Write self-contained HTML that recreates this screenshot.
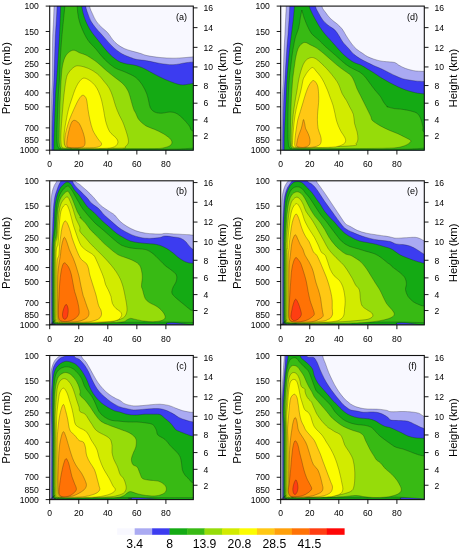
<!DOCTYPE html><html><head><meta charset="utf-8"><title>Figure</title>
<style>html,body{margin:0;padding:0;background:#fff}svg{display:block}text{font-family:"Liberation Sans", Arial, Helvetica, sans-serif;fill:#000}</style></head><body>
<svg width="462" height="550" viewBox="0 0 462 550">
<rect width="462" height="550" fill="#fff"/>
<clipPath id="c1"><rect x="49.70" y="6.10" width="143.60" height="144.10"/></clipPath>
<g clip-path="url(#c1)">
<rect x="49.70" y="6.10" width="143.60" height="144.10" fill="#f8f8ff"/>
<path d="M50.7 159.7C50.8 157.3 50.9 150.4 50.9 145.8C51.0 141.2 51.0 140.0 51.1 131.9C51.2 123.9 51.4 106.0 51.6 97.3C51.8 88.7 51.9 89.6 52.1 80.0C52.3 70.4 52.4 49.7 52.6 39.8C52.9 30.0 53.3 26.3 53.5 20.8C53.7 15.2 53.9 11.0 54.0 6.4C54.1 1.8 54.0 -4.7 54.0 -6.9L88.5 -4.0C88.7 -2.2 89.1 3.7 89.7 6.6C90.3 9.5 91.2 11.0 92.3 13.4C93.4 15.8 94.6 18.8 96.2 21.2C97.8 23.6 100.1 25.8 102.1 27.7C104.0 29.6 106.2 30.9 107.9 32.9C109.6 34.9 110.9 37.4 112.5 39.4C114.1 41.4 115.8 43.1 117.7 44.6C119.7 46.1 121.8 47.4 124.2 48.5C126.6 49.6 129.3 50.3 131.9 51.1C134.5 51.9 137.5 52.5 140.0 53.3C142.5 54.0 143.7 54.9 147.0 55.6C150.3 56.3 155.7 57.1 160.0 57.5C164.3 57.9 168.7 58.2 173.0 58.2C177.3 58.2 182.2 57.8 186.0 57.5C189.8 57.2 192.0 56.9 196.0 56.6C200.0 56.4 207.7 56.1 210.0 56.0L210.0 170.0Z" fill="#aaaaf2" stroke="#141414" stroke-opacity="0.7" stroke-width="0.4"/>
<path d="M51.8 159.7C51.8 157.3 51.9 150.4 51.9 145.8C52.0 141.2 51.9 140.0 52.1 131.9C52.3 123.9 52.9 106.0 53.2 97.3C53.4 88.7 53.5 89.6 53.9 80.0C54.2 70.4 54.8 49.7 55.2 39.8C55.6 30.0 56.0 26.3 56.3 20.8C56.6 15.2 56.9 11.0 57.0 6.4C57.1 1.8 57.0 -4.7 57.0 -6.9L85.0 -4.0C85.1 -2.2 85.3 3.7 85.8 6.6C86.3 9.5 86.9 11.0 87.8 13.4C88.7 15.8 89.7 18.8 91.0 21.2C92.3 23.6 94.0 25.6 95.6 27.7C97.2 29.8 99.1 31.6 100.8 33.5C102.5 35.5 104.3 37.4 106.0 39.4C107.7 41.4 109.4 43.4 111.2 45.2C113.0 47.0 115.0 48.9 117.0 50.4C119.0 51.9 120.6 53.1 122.9 54.3C125.2 55.5 128.2 56.6 130.6 57.5C133.0 58.4 134.4 59.0 137.1 59.5C139.8 60.0 143.2 60.1 147.0 60.8C150.8 61.4 155.7 62.8 160.0 63.4C164.3 64.0 168.7 64.8 173.0 64.7C177.3 64.6 182.2 63.2 186.0 62.7C189.8 62.2 192.0 62.0 196.0 61.8C200.0 61.6 207.7 61.5 210.0 61.5L210.0 170.0Z" fill="#3c3cf0" stroke="#141414" stroke-opacity="0.7" stroke-width="0.4"/>
<path d="M53.7 159.7C53.7 157.3 53.8 150.4 53.9 145.8C53.9 141.2 53.9 140.0 54.2 131.9C54.5 123.9 55.0 106.0 55.4 97.3C55.8 88.7 56.0 89.6 56.6 80.0C57.3 70.4 58.6 49.7 59.2 39.8C59.8 30.0 59.9 26.3 60.1 20.8C60.3 15.2 60.5 11.0 60.6 6.4C60.7 1.8 60.6 -4.7 60.6 -6.9L81.5 -4.0C81.6 -2.2 81.6 3.7 81.9 6.6C82.2 9.5 82.6 11.0 83.2 13.4C83.8 15.8 84.7 18.6 85.8 21.2C86.9 23.8 88.3 26.6 89.7 29.0C91.1 31.4 92.7 33.3 94.3 35.5C95.9 37.7 97.8 39.8 99.5 42.0C101.2 44.2 103.0 46.5 104.7 48.5C106.4 50.5 108.2 52.6 109.9 54.3C111.6 56.0 113.4 57.5 115.1 58.8C116.8 60.1 118.3 61.2 120.3 62.1C122.3 63.0 124.7 63.5 127.0 64.0C129.3 64.5 131.5 64.4 134.0 65.0C136.5 65.6 139.2 66.4 141.8 67.5C144.4 68.6 146.6 69.9 149.6 71.5C152.6 73.1 156.5 75.3 160.0 77.0C163.5 78.7 166.9 80.3 170.4 81.6C173.9 82.9 177.8 84.4 180.8 84.8C183.8 85.2 186.0 84.5 188.5 84.2C191.0 83.9 192.4 83.4 196.0 83.2C199.6 83.0 207.7 83.0 210.0 83.0L210.0 170.0Z" fill="#14aa14" stroke="#141414" stroke-opacity="0.7" stroke-width="0.4"/>
<path d="M64.8 -6.9C64.8 -4.7 65.0 1.8 64.8 6.4C64.5 11.0 63.9 15.2 63.4 20.8C62.9 26.3 62.1 33.8 61.6 39.8C61.2 45.9 60.8 50.4 60.4 57.1C60.1 63.8 59.8 73.3 59.4 80.0C59.0 86.7 58.5 91.5 58.2 97.3C57.9 103.1 57.7 108.9 57.5 114.6C57.3 120.4 57.0 127.3 57.0 131.9C56.9 136.6 56.9 139.7 57.1 142.3C57.4 145.0 57.2 146.6 58.7 147.7C60.2 148.8 55.8 148.8 66.0 149.1C76.2 149.4 105.2 149.2 120.0 149.3C134.8 149.3 144.5 149.3 154.6 149.3C164.7 149.2 174.2 149.1 180.6 148.9C187.0 148.7 188.3 148.4 193.2 148.2C198.2 148.0 207.2 147.8 210.0 147.7L210.0 131.9C207.2 131.8 196.7 132.1 193.2 131.1C189.8 130.1 190.8 127.8 189.3 125.9C187.7 124.0 186.1 121.8 184.1 119.8C182.0 117.8 179.5 115.1 177.1 113.8C174.8 112.5 172.8 112.1 170.2 112.0C167.6 111.9 164.2 113.2 161.6 113.2C159.0 113.2 156.5 113.0 154.6 112.0C152.8 111.1 151.3 109.6 150.3 107.7C149.3 105.8 149.2 103.1 148.6 100.8C148.0 98.4 147.7 96.3 146.7 93.7C145.6 91.1 144.2 87.8 142.3 85.0C140.5 82.3 138.3 79.4 135.4 77.2C132.5 75.1 128.5 73.6 125.0 72.0C121.6 70.4 118.1 69.9 114.6 67.7C111.2 65.5 107.4 62.2 104.2 59.0C101.1 55.9 98.3 51.8 95.6 48.7C92.8 45.5 90.1 43.5 87.8 40.0C85.5 36.5 83.1 31.5 81.6 27.7C80.0 23.9 79.2 20.9 78.4 17.3C77.7 13.8 77.4 10.4 77.2 6.4C77.0 2.4 77.2 -4.7 77.2 -6.9Z" fill="#38ba14" stroke="#141414" stroke-opacity="0.7" stroke-width="0.4"/>
<path d="M72.9 50.2C70.6 50.6 67.7 52.8 66.0 55.4C64.2 58.0 63.3 61.7 62.5 65.8C61.7 69.9 61.5 74.7 61.1 80.0C60.8 85.3 60.5 91.5 60.3 97.3C60.0 103.1 59.7 108.9 59.6 114.6C59.4 120.4 59.3 127.3 59.2 131.9C59.2 136.6 59.0 139.7 59.2 142.3C59.5 144.9 59.4 146.5 60.8 147.5C62.2 148.6 57.8 148.4 67.7 148.6C77.6 148.8 105.5 148.7 120.0 148.7C134.5 148.7 147.4 148.7 154.6 148.6C161.8 148.4 160.7 148.4 163.3 147.9C165.9 147.4 168.8 146.5 170.2 145.5C171.7 144.4 172.1 143.1 171.9 141.8C171.8 140.6 170.8 139.4 169.4 138.0C167.9 136.7 165.7 135.1 163.3 133.7C160.8 132.2 157.5 130.6 154.6 129.4C151.7 128.1 148.6 127.5 146.0 125.9C143.4 124.3 140.8 122.0 139.0 119.8C137.3 117.7 136.5 114.7 135.6 112.9C134.7 111.1 134.4 111.3 133.7 109.3C132.9 107.2 131.9 103.5 131.1 100.6C130.2 97.7 129.8 94.7 128.5 91.9C127.2 89.2 125.6 86.6 123.3 84.2C121.0 81.7 117.5 79.5 114.6 77.2C111.7 74.9 108.9 72.8 106.0 70.3C103.1 67.8 100.5 65.0 97.3 62.5C94.1 60.1 89.8 57.2 86.9 55.6C84.0 54.0 82.3 53.9 80.0 53.0C77.7 52.1 75.2 49.8 72.9 50.2Z" fill="#96dc0a" stroke="#141414" stroke-opacity="0.7" stroke-width="0.4"/>
<path d="M74.6 66.7C72.7 67.8 70.0 70.5 68.6 72.7C67.1 74.9 66.8 75.9 66.0 80.0C65.2 84.1 64.4 91.5 63.7 97.3C63.1 103.1 62.6 108.9 62.2 114.6C61.7 120.4 61.2 127.3 61.0 131.9C60.8 136.6 60.7 139.8 61.0 142.3C61.2 144.9 61.1 146.4 62.5 147.4C63.9 148.3 59.9 148.1 69.4 148.2C79.0 148.4 110.7 148.5 120.0 148.2C129.3 148.0 123.8 147.6 125.2 146.7C126.6 145.7 127.9 144.3 128.3 142.7C128.7 141.1 128.3 139.5 127.8 137.1C127.3 134.8 126.1 131.1 125.2 128.5C124.3 125.9 123.6 123.9 122.6 121.6C121.6 119.2 120.1 117.1 119.0 114.5C117.8 111.8 116.5 108.7 115.5 105.8C114.5 102.9 113.9 100.0 112.9 97.1C111.9 94.3 110.9 91.1 109.4 88.5C108.0 85.9 106.3 84.0 104.2 81.6C102.2 79.1 99.9 75.9 97.3 73.8C94.7 71.6 91.5 69.9 88.7 68.6C85.8 67.3 82.3 66.3 80.0 66.0C77.7 65.7 76.5 65.5 74.6 66.7Z" fill="#d2eb00" stroke="#141414" stroke-opacity="0.7" stroke-width="0.4"/>
<path d="M83.8 78.1C82.1 78.3 80.8 79.9 79.4 81.6C78.0 83.3 76.8 85.6 75.5 88.5C74.2 91.4 73.0 95.4 71.8 98.9C70.6 102.4 69.4 105.8 68.5 109.3C67.6 112.8 67.0 116.2 66.3 120.0C65.6 123.8 64.6 128.6 64.3 132.3C63.9 136.0 63.9 139.6 64.2 142.0C64.5 144.4 64.2 145.4 66.0 146.5C67.8 147.6 68.5 148.0 75.0 148.3C81.5 148.6 98.7 148.5 105.0 148.3C111.3 148.1 111.1 147.8 113.0 147.3C114.9 146.8 115.7 146.1 116.5 145.2C117.3 144.3 118.0 143.0 117.9 141.8C117.8 140.6 117.4 139.6 116.0 137.9C114.6 136.2 111.2 134.2 109.5 131.4C107.8 128.6 106.6 124.6 105.6 121.0C104.6 117.4 104.3 113.5 103.6 110.0C102.9 106.5 102.3 103.1 101.5 100.0C100.7 96.9 99.6 93.9 98.5 91.5C97.4 89.1 96.5 87.3 95.0 85.5C93.5 83.7 91.7 81.8 89.8 80.6C87.9 79.4 85.5 77.9 83.8 78.1Z" fill="#fcfc00" stroke="#141414" stroke-opacity="0.7" stroke-width="0.4"/>
<path d="M82.9 95.2C81.7 95.2 80.5 96.7 79.0 99.0C77.4 101.4 75.4 106.0 73.8 109.4C72.2 112.9 70.7 116.4 69.4 119.8C68.2 123.3 67.1 127.0 66.3 130.2C65.5 133.4 64.9 136.3 64.8 138.9C64.6 141.5 64.5 144.4 65.3 145.8C66.1 147.2 65.0 147.2 69.4 147.5C73.9 147.8 86.9 147.9 91.9 147.7C97.0 147.5 98.2 147.0 99.7 146.3C101.3 145.6 101.8 144.8 101.5 143.5C101.2 142.3 99.5 141.1 98.0 138.9C96.6 136.7 94.2 133.4 92.8 130.2C91.5 127.0 90.7 123.3 89.9 119.8C89.1 116.4 88.5 112.9 88.0 109.4C87.4 106.0 87.2 101.4 86.4 99.0C85.6 96.7 84.2 95.2 82.9 95.2Z" fill="#ffc814" stroke="#141414" stroke-opacity="0.7" stroke-width="0.4"/>
<path d="M74.1 120.3C72.8 120.3 72.1 121.4 71.2 123.3C70.2 125.2 69.3 129.1 68.6 131.9C67.9 134.8 67.3 138.3 67.0 140.6C66.8 142.9 66.6 144.6 67.0 145.8C67.4 147.0 67.3 147.2 69.4 147.5C71.6 147.8 77.4 147.8 79.8 147.5C82.3 147.2 83.3 146.9 84.2 145.8C85.0 144.7 85.2 143.3 85.0 141.0C84.8 138.6 84.0 134.9 82.9 131.9C81.9 129.0 80.4 125.2 79.0 123.3C77.5 121.4 75.4 120.3 74.1 120.3Z" fill="#ffa00a" stroke="#141414" stroke-opacity="0.7" stroke-width="0.4"/>
</g>
<rect x="49.70" y="6.10" width="143.60" height="144.10" fill="none" stroke="#111" stroke-width="1.1"/>
<line x1="45.70" y1="6.10" x2="49.70" y2="6.10" stroke="#000" stroke-width="0.9"/>
<text x="38.80" y="9.20" font-size="8.6" text-anchor="end">100</text>
<line x1="45.70" y1="31.47" x2="49.70" y2="31.47" stroke="#000" stroke-width="0.9"/>
<text x="38.80" y="34.57" font-size="8.6" text-anchor="end">150</text>
<line x1="45.70" y1="49.48" x2="49.70" y2="49.48" stroke="#000" stroke-width="0.9"/>
<text x="38.80" y="52.58" font-size="8.6" text-anchor="end">200</text>
<line x1="45.70" y1="63.44" x2="49.70" y2="63.44" stroke="#000" stroke-width="0.9"/>
<text x="38.80" y="66.54" font-size="8.6" text-anchor="end">250</text>
<line x1="45.70" y1="74.85" x2="49.70" y2="74.85" stroke="#000" stroke-width="0.9"/>
<text x="38.80" y="77.95" font-size="8.6" text-anchor="end">300</text>
<line x1="45.70" y1="92.86" x2="49.70" y2="92.86" stroke="#000" stroke-width="0.9"/>
<text x="38.80" y="95.96" font-size="8.6" text-anchor="end">400</text>
<line x1="45.70" y1="106.82" x2="49.70" y2="106.82" stroke="#000" stroke-width="0.9"/>
<text x="38.80" y="109.92" font-size="8.6" text-anchor="end">500</text>
<line x1="45.70" y1="127.88" x2="49.70" y2="127.88" stroke="#000" stroke-width="0.9"/>
<text x="38.80" y="130.98" font-size="8.6" text-anchor="end">700</text>
<line x1="45.70" y1="140.03" x2="49.70" y2="140.03" stroke="#000" stroke-width="0.9"/>
<text x="38.80" y="143.13" font-size="8.6" text-anchor="end">850</text>
<line x1="45.70" y1="150.20" x2="49.70" y2="150.20" stroke="#000" stroke-width="0.9"/>
<text x="38.80" y="153.30" font-size="8.6" text-anchor="end">1000</text>
<line x1="193.30" y1="135.84" x2="197.50" y2="135.84" stroke="#000" stroke-width="0.9"/>
<text x="203.40" y="139.14" font-size="8.6" text-anchor="start">2</text>
<line x1="193.30" y1="119.92" x2="197.50" y2="119.92" stroke="#000" stroke-width="0.9"/>
<text x="203.40" y="123.22" font-size="8.6" text-anchor="start">4</text>
<line x1="193.30" y1="103.19" x2="197.50" y2="103.19" stroke="#000" stroke-width="0.9"/>
<text x="203.40" y="106.49" font-size="8.6" text-anchor="start">6</text>
<line x1="193.30" y1="85.56" x2="197.50" y2="85.56" stroke="#000" stroke-width="0.9"/>
<text x="203.40" y="88.86" font-size="8.6" text-anchor="start">8</text>
<line x1="193.30" y1="66.94" x2="197.50" y2="66.94" stroke="#000" stroke-width="0.9"/>
<text x="203.40" y="70.24" font-size="8.6" text-anchor="start">10</text>
<line x1="193.30" y1="47.35" x2="197.50" y2="47.35" stroke="#000" stroke-width="0.9"/>
<text x="203.40" y="50.65" font-size="8.6" text-anchor="start">12</text>
<line x1="193.30" y1="27.61" x2="197.50" y2="27.61" stroke="#000" stroke-width="0.9"/>
<text x="203.40" y="30.91" font-size="8.6" text-anchor="start">14</text>
<line x1="193.30" y1="7.87" x2="197.50" y2="7.87" stroke="#000" stroke-width="0.9"/>
<text x="203.40" y="11.17" font-size="8.6" text-anchor="start">16</text>
<line x1="49.70" y1="150.20" x2="49.70" y2="154.50" stroke="#000" stroke-width="0.9"/>
<text x="49.70" y="167.00" font-size="8.6" text-anchor="middle">0</text>
<line x1="78.75" y1="150.20" x2="78.75" y2="154.50" stroke="#000" stroke-width="0.9"/>
<text x="78.75" y="167.00" font-size="8.6" text-anchor="middle">20</text>
<line x1="107.80" y1="150.20" x2="107.80" y2="154.50" stroke="#000" stroke-width="0.9"/>
<text x="107.80" y="167.00" font-size="8.6" text-anchor="middle">40</text>
<line x1="136.85" y1="150.20" x2="136.85" y2="154.50" stroke="#000" stroke-width="0.9"/>
<text x="136.85" y="167.00" font-size="8.6" text-anchor="middle">60</text>
<line x1="165.90" y1="150.20" x2="165.90" y2="154.50" stroke="#000" stroke-width="0.9"/>
<text x="165.90" y="167.00" font-size="8.6" text-anchor="middle">80</text>
<text transform="translate(10.20 78.15) rotate(-90)" font-size="11.4" text-anchor="middle">Pressure (mb)</text>
<text transform="translate(226.40 78.15) rotate(-90)" font-size="11.4" text-anchor="middle">Height (km)</text>
<text x="181.40" y="19.70" font-size="9" text-anchor="middle">(a)</text>
<clipPath id="c2"><rect x="49.70" y="180.80" width="143.60" height="144.10"/></clipPath>
<g clip-path="url(#c2)">
<rect x="49.70" y="180.80" width="143.60" height="144.10" fill="#f8f8ff"/>
<path d="M230.0 324.7C201.7 324.7 89.5 324.7 60.0 324.7C30.5 324.7 54.3 324.6 52.9 324.5C51.5 324.4 51.8 324.4 51.5 324.2C51.2 324.0 51.1 323.9 51.0 323.3C50.8 322.6 50.8 330.8 50.8 320.3C50.8 309.7 50.8 278.4 50.8 260.0C50.8 241.6 50.6 220.6 50.7 209.6C50.9 198.6 51.2 198.0 51.8 194.0C52.4 190.1 53.3 188.0 54.2 185.7C55.1 183.4 56.4 183.1 57.0 180.2C57.5 177.3 57.5 170.1 57.7 168.1L73.9 168.1C74.1 170.1 73.7 177.5 74.6 180.2C75.6 182.9 77.8 182.8 79.8 184.5C81.8 186.3 84.4 188.4 86.8 190.6C89.1 192.7 91.4 195.1 93.7 197.5C96.0 200.0 98.0 203.0 100.6 205.3C103.2 207.6 106.9 209.7 109.3 211.4C111.6 213.0 112.9 213.4 114.6 215.0C116.4 216.6 117.8 219.2 119.8 221.1C121.8 222.9 124.2 224.7 126.8 226.3C129.4 227.8 132.2 229.4 135.4 230.6C138.6 231.7 141.7 232.6 145.8 233.2C149.9 233.8 156.8 234.0 160.0 234.0C163.2 234.1 162.7 233.4 165.0 233.4C167.3 233.3 170.8 233.7 173.7 233.9C176.6 234.0 179.7 234.2 182.3 234.4C184.9 234.5 187.4 234.6 189.3 234.7C191.1 234.9 189.8 234.9 193.2 235.1C196.7 235.2 207.2 235.5 210.0 235.6Z" fill="#aaaaf2" stroke="#141414" stroke-opacity="0.7" stroke-width="0.4"/>
<path d="M230.0 324.5C201.7 324.5 89.3 324.6 60.0 324.5C30.7 324.4 55.6 324.3 54.4 324.2C53.1 324.1 53.0 324.1 52.6 323.8C52.1 323.6 52.0 323.4 51.9 322.6C51.7 321.8 51.7 330.0 51.7 318.8C51.6 307.5 51.5 270.3 51.7 255.0C51.8 239.7 52.4 234.5 52.6 226.9C52.9 219.4 53.0 214.5 53.3 209.6C53.7 204.7 54.1 201.0 54.7 197.5C55.4 194.0 56.5 191.2 57.3 188.9C58.1 186.5 58.8 185.1 59.4 183.7C60.0 182.2 60.5 182.8 60.8 180.2C61.1 177.6 61.2 170.1 61.3 168.1L71.7 168.1C71.8 170.1 71.8 177.3 72.4 180.2C72.9 183.1 73.7 183.7 75.0 185.4C76.2 187.1 77.9 188.6 79.8 190.6C81.8 192.6 84.7 195.3 86.8 197.5C88.8 199.7 89.9 201.7 91.9 203.6C94.0 205.4 96.8 206.9 98.9 208.8C100.9 210.7 102.2 213.0 104.2 215.0C106.3 217.0 108.9 219.0 111.2 221.1C113.5 223.1 115.8 225.4 118.1 227.1C120.4 228.9 122.7 230.2 125.0 231.5C127.3 232.7 129.4 233.9 131.9 234.9C134.5 235.9 137.7 236.9 140.6 237.5C143.5 238.1 146.0 238.4 149.3 238.4C152.5 238.4 157.4 237.9 160.0 237.5C162.6 237.1 162.7 236.0 165.0 236.0C167.3 235.9 171.1 236.6 173.7 237.0C176.3 237.4 178.6 237.4 180.6 238.2C182.6 239.0 184.4 240.4 185.8 241.7C187.2 243.0 188.0 244.7 189.3 246.0C190.5 247.3 189.8 246.9 193.2 249.5C196.7 252.1 207.2 259.6 210.0 261.6Z" fill="#3c3cf0" stroke="#141414" stroke-opacity="0.7" stroke-width="0.4"/>
<path d="M230.0 322.6C223.7 332.4 182.7 322.4 172.0 322.7C161.3 323.0 169.7 323.9 166.0 324.2C162.3 324.5 167.7 324.3 150.0 324.3C132.3 324.3 75.7 324.3 60.0 324.2C44.3 324.1 56.9 324.0 55.8 323.9C54.8 323.7 54.1 323.8 53.6 323.4C53.1 323.1 53.0 323.0 52.8 321.9C52.6 320.9 52.6 329.3 52.5 317.3C52.5 305.3 52.3 265.1 52.5 250.0C52.8 234.9 53.7 233.7 54.0 226.9C54.4 220.2 54.3 214.5 54.7 209.6C55.1 204.7 55.6 200.9 56.5 197.5C57.3 194.1 58.4 191.4 59.6 189.2C60.7 187.0 62.1 185.5 63.4 184.4C64.7 183.2 66.1 182.1 67.4 182.1C68.7 182.1 70.0 183.3 71.2 184.5C72.3 185.8 73.0 188.0 74.3 189.7C75.6 191.5 77.5 193.0 79.0 194.9C80.5 196.8 81.8 199.0 83.3 201.0C84.7 203.0 85.9 205.2 87.6 207.0C89.4 208.9 91.2 209.9 93.7 212.2C96.2 214.6 99.9 218.6 102.5 221.1C105.1 223.5 107.1 225.1 109.4 227.1C111.7 229.1 114.1 231.5 116.4 233.2C118.7 234.9 121.0 236.2 123.3 237.5C125.6 238.8 127.6 240.1 130.2 241.0C132.8 241.8 136.0 242.3 138.9 242.7C141.8 243.1 144.6 243.3 147.5 243.6C150.4 243.9 153.9 244.0 156.2 244.4C158.5 244.8 159.8 245.3 161.6 246.0C163.3 246.7 165.0 247.6 166.8 248.6C168.5 249.6 170.5 251.0 171.9 252.1C173.4 253.1 174.1 253.9 175.4 255.0C176.7 256.1 178.0 257.3 179.7 258.5C181.5 259.6 183.5 261.1 185.8 261.9C188.1 262.7 189.2 263.0 193.2 263.3C197.3 263.7 203.9 254.1 210.0 264.0C216.2 273.9 236.3 312.8 230.0 322.6Z" fill="#14aa14" stroke="#141414" stroke-opacity="0.7" stroke-width="0.4"/>
<path d="M230.0 321.8C221.7 323.6 181.7 321.9 160.0 322.0C138.3 322.1 116.3 322.4 100.0 322.6C83.7 322.9 69.1 323.3 62.0 323.5C54.9 323.7 58.5 323.6 57.3 323.6C56.1 323.5 55.3 323.4 54.7 323.0C54.1 322.7 54.0 322.5 53.7 321.3C53.5 320.1 53.5 327.6 53.4 315.8C53.4 303.9 53.1 264.8 53.4 250.0C53.8 235.2 54.9 233.7 55.4 226.9C55.9 220.2 56.0 214.2 56.5 209.6C56.9 205.0 57.3 202.3 58.2 199.2C59.0 196.2 60.1 193.6 61.6 191.5C63.2 189.3 65.7 186.4 67.4 186.1C69.0 185.8 70.2 188.1 71.5 189.7C72.8 191.3 73.7 193.6 75.0 195.8C76.2 197.9 77.6 200.4 79.0 202.7C80.3 205.0 80.8 206.4 83.3 209.6C85.8 212.8 90.9 218.9 93.9 221.9C96.8 225.0 98.5 226.0 100.8 228.0C103.1 230.0 105.4 232.0 107.7 234.0C110.0 236.1 112.3 238.2 114.6 240.1C116.9 242.0 119.0 244.0 121.6 245.3C124.2 246.6 127.3 247.3 130.2 247.9C133.1 248.5 136.3 248.5 138.9 248.8C141.5 249.1 143.8 249.1 145.8 249.6C147.8 250.2 149.3 251.1 151.0 252.2C152.7 253.4 153.9 254.4 156.2 256.6C158.5 258.8 162.4 263.1 165.0 265.4C167.6 267.7 170.1 269.0 171.9 270.6C173.8 272.2 175.6 273.2 176.3 274.9C177.0 276.6 176.9 278.8 176.3 281.0C175.7 283.1 173.5 285.9 172.8 287.9C172.1 289.9 171.5 291.5 171.9 293.1C172.4 294.7 174.0 296.0 175.4 297.4C176.9 298.9 178.9 300.3 180.6 301.8C182.3 303.2 184.2 304.8 185.8 306.1C187.4 307.4 188.9 308.8 190.1 309.5C191.4 310.3 189.9 310.1 193.2 310.4C196.6 310.7 203.9 309.4 210.0 311.3C216.2 313.2 238.3 320.0 230.0 321.8Z" fill="#38ba14" stroke="#141414" stroke-opacity="0.7" stroke-width="0.4"/>
<path d="M55.8 322.6C53.9 322.2 54.9 322.0 54.7 320.6C54.4 319.2 54.4 326.0 54.3 314.2C54.2 302.5 54.0 263.1 54.3 250.0C54.6 236.9 55.8 240.9 56.3 235.6C56.8 230.3 56.8 223.2 57.1 218.3C57.5 213.4 57.7 209.6 58.4 206.2C59.0 202.7 59.6 200.0 61.1 197.5C62.6 195.0 65.7 191.4 67.4 191.3C69.0 191.1 70.0 194.6 71.2 196.6C72.3 198.7 73.1 201.1 74.1 203.6C75.1 206.0 76.1 209.1 77.2 211.4C78.3 213.7 80.2 216.4 80.7 217.4C81.2 218.5 79.2 216.7 80.0 217.6C80.8 218.5 83.5 220.8 85.2 222.8C86.9 224.8 88.4 227.4 90.4 229.7C92.4 232.0 95.0 234.3 97.3 236.6C99.6 239.0 101.9 241.4 104.2 243.6C106.6 245.7 108.9 247.8 111.2 249.6C113.5 251.5 115.8 253.5 118.1 254.8C120.4 256.1 122.7 256.6 125.0 257.4C127.3 258.3 129.6 258.9 131.9 260.0C134.3 261.2 137.3 262.6 138.9 264.4C140.5 266.1 140.9 268.2 141.5 270.4C142.0 272.6 142.3 274.7 142.3 277.3C142.3 279.9 141.4 283.9 141.5 286.0C141.5 288.0 141.9 287.6 142.5 289.6C143.1 291.7 144.0 296.1 145.1 298.3C146.3 300.5 147.8 301.5 149.4 302.6C151.0 303.8 152.9 304.2 154.6 305.2C156.4 306.2 158.2 307.2 159.8 308.7C161.4 310.1 163.3 312.3 164.2 313.9C165.0 315.5 165.6 317.0 165.0 318.2C164.4 319.4 162.7 320.2 160.7 320.8C158.7 321.4 155.6 321.6 152.9 321.7C150.2 321.7 147.1 321.5 144.2 321.1C141.4 320.8 137.9 319.9 135.6 319.4C133.3 319.0 131.8 318.3 130.4 318.4C128.9 318.5 128.1 319.4 126.9 319.9C125.8 320.5 125.8 321.2 123.5 321.7C121.1 322.1 118.0 322.3 112.7 322.5C107.5 322.8 99.7 323.0 91.9 323.1C84.2 323.1 72.0 323.1 66.0 323.1C59.9 323.0 57.7 323.1 55.8 322.6Z" fill="#96dc0a" stroke="#141414" stroke-opacity="0.7" stroke-width="0.4"/>
<path d="M56.9 322.3C55.2 321.8 55.9 321.6 55.6 320.0C55.3 318.4 55.3 324.4 55.2 312.7C55.1 301.1 54.9 262.6 55.2 250.0C55.5 237.4 56.7 241.8 57.1 237.3C57.6 232.9 57.7 227.8 58.0 223.5C58.4 219.2 58.6 214.8 59.2 211.4C59.8 207.9 60.2 205.1 61.5 202.7C62.8 200.3 65.5 197.0 67.0 196.8C68.5 196.7 69.3 199.7 70.3 201.8C71.3 204.0 72.3 206.9 73.2 209.6C74.2 212.4 74.7 215.4 75.8 218.3C76.9 221.2 79.1 224.8 79.8 226.9C80.5 229.1 79.1 229.7 80.0 231.5C80.9 233.2 83.5 235.5 85.2 237.5C86.9 239.5 88.4 241.4 90.4 243.6C92.4 245.7 95.0 248.2 97.3 250.5C99.6 252.8 101.9 255.0 104.2 257.4C106.6 259.9 109.1 262.8 111.2 265.2C113.2 267.7 114.8 269.7 116.4 272.1C118.0 274.6 119.5 277.3 120.7 279.9C121.8 282.5 122.5 284.7 123.3 287.7C124.1 290.8 124.9 295.1 125.5 298.3C126.1 301.5 126.8 304.5 126.9 306.9C127.1 309.4 127.2 311.2 126.6 313.0C126.0 314.8 125.2 316.4 123.5 317.7C121.7 318.9 118.6 319.8 116.2 320.5C113.8 321.1 113.3 321.5 109.3 321.8C105.2 322.2 99.2 322.6 91.9 322.7C84.7 322.8 71.8 322.8 66.0 322.7C60.1 322.6 58.6 322.7 56.9 322.3Z" fill="#d2eb00" stroke="#141414" stroke-opacity="0.7" stroke-width="0.4"/>
<path d="M58.0 321.9C56.4 321.4 56.9 321.1 56.5 319.3C56.2 317.5 56.1 321.9 56.1 311.2C56.0 300.5 55.7 266.2 56.1 255.0C56.4 243.8 57.5 248.1 58.0 244.3C58.5 240.5 58.6 236.2 58.9 232.1C59.2 228.1 59.3 223.8 59.7 220.0C60.2 216.3 60.4 212.3 61.5 209.6C62.5 207.0 64.7 204.3 66.0 204.3C67.2 204.3 68.2 207.3 69.1 209.6C70.0 212.0 70.7 215.4 71.5 218.3C72.3 221.2 72.5 222.7 73.9 226.9C75.4 231.2 78.1 239.8 80.0 243.6C81.9 247.4 83.0 247.7 85.2 249.6C87.4 251.5 91.4 253.1 93.4 255.0C95.3 256.9 95.8 259.0 96.8 261.1C97.8 263.1 98.6 265.1 99.4 267.1C100.3 269.1 101.2 271.2 102.0 273.2C102.8 275.2 103.6 277.4 104.2 279.2C104.8 281.1 104.8 282.7 105.5 284.4C106.1 286.2 107.2 287.6 108.1 289.6C109.0 291.7 110.3 294.2 111.0 296.6C111.7 298.9 111.5 301.5 112.4 303.5C113.2 305.5 114.9 307.4 116.2 308.7C117.5 310.0 119.1 310.3 120.0 311.3C120.9 312.3 121.7 313.6 121.7 314.7C121.7 315.9 120.9 317.3 120.0 318.2C119.1 319.2 118.0 319.9 116.2 320.5C114.4 321.0 113.3 321.2 109.3 321.5C105.2 321.8 99.2 322.2 91.9 322.4C84.7 322.5 71.6 322.4 66.0 322.4C60.3 322.3 59.5 322.4 58.0 321.9Z" fill="#fcfc00" stroke="#141414" stroke-opacity="0.7" stroke-width="0.4"/>
<path d="M58.9 321.5C57.5 321.0 57.8 320.7 57.4 318.8C57.1 317.0 57.0 319.3 56.9 310.3C56.9 301.4 56.6 274.2 56.9 265.0C57.3 255.8 58.4 258.5 58.9 255.0C59.3 251.5 59.4 247.8 59.7 244.3C60.1 240.7 60.5 237.0 61.0 233.9C61.4 230.7 62.0 227.4 62.7 225.2C63.4 223.1 64.4 220.9 65.3 220.9C66.2 220.9 67.4 223.3 68.2 225.2C69.1 227.1 69.7 229.5 70.5 232.1C71.3 234.7 71.7 237.0 73.1 240.8C74.4 244.6 77.2 251.8 78.7 255.0C80.2 258.2 80.8 258.8 82.1 260.2C83.4 261.6 85.4 262.2 86.5 263.7C87.5 265.1 88.1 267.1 88.6 268.9C89.1 270.6 89.0 272.0 89.5 274.0C90.0 276.1 90.9 278.7 91.6 281.0C92.4 283.3 93.1 285.6 93.8 287.9C94.5 290.2 95.2 292.1 96.0 295.0C96.8 297.9 97.7 302.6 98.5 305.2C99.4 307.8 100.5 308.8 101.0 310.4C101.4 312.0 101.8 313.4 101.5 314.7C101.1 316.1 100.5 317.6 98.9 318.7C97.3 319.8 94.5 320.7 91.9 321.3C89.4 321.9 87.6 322.0 83.3 322.2C79.0 322.3 70.0 322.3 66.0 322.2C61.9 322.1 60.4 322.1 58.9 321.5Z" fill="#ffc814" stroke="#141414" stroke-opacity="0.7" stroke-width="0.4"/>
<path d="M59.8 321.2C58.5 320.7 58.7 320.4 58.3 318.5C58.0 316.6 57.9 317.3 57.8 310.0C57.7 302.8 57.4 284.2 57.8 275.0C58.3 265.8 59.9 259.3 60.4 255.0C61.0 250.7 60.6 251.5 61.0 249.5C61.3 247.4 61.8 244.6 62.3 242.5C62.9 240.5 63.6 237.3 64.4 237.3C65.2 237.3 66.2 240.5 67.0 242.5C67.8 244.6 68.5 247.4 69.3 249.5C70.1 251.5 70.9 253.1 71.7 255.0C72.6 256.9 73.5 258.8 74.3 261.1C75.2 263.4 76.1 266.3 76.9 268.9C77.7 271.5 78.4 273.9 79.1 276.6C79.7 279.4 80.2 282.2 80.8 285.3C81.5 288.4 82.4 292.8 83.0 295.0C83.5 297.2 83.5 296.3 84.2 298.3C84.8 300.3 86.3 304.5 87.1 306.9C87.9 309.4 89.0 311.2 89.0 313.0C89.0 314.8 88.5 316.4 87.1 317.7C85.7 319.0 82.8 320.1 80.7 320.8C78.6 321.5 77.1 321.7 74.6 321.8C72.2 322.0 68.4 321.9 66.0 321.8C63.5 321.7 61.1 321.8 59.8 321.2Z" fill="#ffa00a" stroke="#141414" stroke-opacity="0.7" stroke-width="0.4"/>
<path d="M64.2 262.8C63.1 263.1 62.4 265.8 61.6 268.9C60.9 271.9 60.4 276.1 59.9 281.0C59.5 285.9 59.1 293.1 58.9 298.3C58.6 303.5 58.3 308.7 58.4 312.1C58.4 315.5 58.4 317.2 59.0 318.7C59.7 320.3 60.8 320.9 62.5 321.3C64.2 321.7 67.3 321.7 69.4 321.1C71.6 320.6 73.9 319.4 75.5 318.2C77.1 317.0 78.4 315.5 79.0 313.9C79.5 312.3 79.2 311.0 79.0 308.7C78.7 306.4 78.0 302.9 77.2 300.0C76.5 297.1 75.4 294.2 74.6 291.4C73.9 288.5 73.5 285.6 72.9 282.7C72.3 279.8 71.9 276.6 71.2 274.0C70.4 271.5 69.7 269.0 68.6 267.1C67.4 265.2 65.4 262.5 64.2 262.8Z" fill="#ff7205" stroke="#141414" stroke-opacity="0.7" stroke-width="0.4"/>
<path d="M66.0 304.4C65.3 304.6 64.3 307.1 63.7 308.7C63.1 310.3 62.6 312.3 62.5 313.9C62.4 315.5 62.7 317.3 63.2 318.2C63.7 319.1 64.6 319.5 65.3 319.2C66.0 319.0 66.9 317.8 67.4 316.5C67.8 315.1 68.2 312.9 68.2 311.3C68.3 309.7 68.1 308.1 67.7 306.9C67.3 305.8 66.6 304.1 66.0 304.4Z" fill="#ff3e12" stroke="#141414" stroke-opacity="0.7" stroke-width="0.4"/>
</g>
<rect x="49.70" y="180.80" width="143.60" height="144.10" fill="none" stroke="#111" stroke-width="1.1"/>
<line x1="45.70" y1="180.80" x2="49.70" y2="180.80" stroke="#000" stroke-width="0.9"/>
<text x="38.80" y="183.90" font-size="8.6" text-anchor="end">100</text>
<line x1="45.70" y1="206.17" x2="49.70" y2="206.17" stroke="#000" stroke-width="0.9"/>
<text x="38.80" y="209.27" font-size="8.6" text-anchor="end">150</text>
<line x1="45.70" y1="224.18" x2="49.70" y2="224.18" stroke="#000" stroke-width="0.9"/>
<text x="38.80" y="227.28" font-size="8.6" text-anchor="end">200</text>
<line x1="45.70" y1="238.14" x2="49.70" y2="238.14" stroke="#000" stroke-width="0.9"/>
<text x="38.80" y="241.24" font-size="8.6" text-anchor="end">250</text>
<line x1="45.70" y1="249.55" x2="49.70" y2="249.55" stroke="#000" stroke-width="0.9"/>
<text x="38.80" y="252.65" font-size="8.6" text-anchor="end">300</text>
<line x1="45.70" y1="267.56" x2="49.70" y2="267.56" stroke="#000" stroke-width="0.9"/>
<text x="38.80" y="270.66" font-size="8.6" text-anchor="end">400</text>
<line x1="45.70" y1="281.52" x2="49.70" y2="281.52" stroke="#000" stroke-width="0.9"/>
<text x="38.80" y="284.62" font-size="8.6" text-anchor="end">500</text>
<line x1="45.70" y1="302.58" x2="49.70" y2="302.58" stroke="#000" stroke-width="0.9"/>
<text x="38.80" y="305.68" font-size="8.6" text-anchor="end">700</text>
<line x1="45.70" y1="314.73" x2="49.70" y2="314.73" stroke="#000" stroke-width="0.9"/>
<text x="38.80" y="317.83" font-size="8.6" text-anchor="end">850</text>
<line x1="45.70" y1="324.90" x2="49.70" y2="324.90" stroke="#000" stroke-width="0.9"/>
<text x="38.80" y="328.00" font-size="8.6" text-anchor="end">1000</text>
<line x1="193.30" y1="310.54" x2="197.50" y2="310.54" stroke="#000" stroke-width="0.9"/>
<text x="203.40" y="313.84" font-size="8.6" text-anchor="start">2</text>
<line x1="193.30" y1="294.62" x2="197.50" y2="294.62" stroke="#000" stroke-width="0.9"/>
<text x="203.40" y="297.92" font-size="8.6" text-anchor="start">4</text>
<line x1="193.30" y1="277.89" x2="197.50" y2="277.89" stroke="#000" stroke-width="0.9"/>
<text x="203.40" y="281.19" font-size="8.6" text-anchor="start">6</text>
<line x1="193.30" y1="260.26" x2="197.50" y2="260.26" stroke="#000" stroke-width="0.9"/>
<text x="203.40" y="263.56" font-size="8.6" text-anchor="start">8</text>
<line x1="193.30" y1="241.64" x2="197.50" y2="241.64" stroke="#000" stroke-width="0.9"/>
<text x="203.40" y="244.94" font-size="8.6" text-anchor="start">10</text>
<line x1="193.30" y1="222.05" x2="197.50" y2="222.05" stroke="#000" stroke-width="0.9"/>
<text x="203.40" y="225.35" font-size="8.6" text-anchor="start">12</text>
<line x1="193.30" y1="202.31" x2="197.50" y2="202.31" stroke="#000" stroke-width="0.9"/>
<text x="203.40" y="205.61" font-size="8.6" text-anchor="start">14</text>
<line x1="193.30" y1="182.57" x2="197.50" y2="182.57" stroke="#000" stroke-width="0.9"/>
<text x="203.40" y="185.87" font-size="8.6" text-anchor="start">16</text>
<line x1="49.70" y1="324.90" x2="49.70" y2="329.20" stroke="#000" stroke-width="0.9"/>
<text x="49.70" y="341.70" font-size="8.6" text-anchor="middle">0</text>
<line x1="78.75" y1="324.90" x2="78.75" y2="329.20" stroke="#000" stroke-width="0.9"/>
<text x="78.75" y="341.70" font-size="8.6" text-anchor="middle">20</text>
<line x1="107.80" y1="324.90" x2="107.80" y2="329.20" stroke="#000" stroke-width="0.9"/>
<text x="107.80" y="341.70" font-size="8.6" text-anchor="middle">40</text>
<line x1="136.85" y1="324.90" x2="136.85" y2="329.20" stroke="#000" stroke-width="0.9"/>
<text x="136.85" y="341.70" font-size="8.6" text-anchor="middle">60</text>
<line x1="165.90" y1="324.90" x2="165.90" y2="329.20" stroke="#000" stroke-width="0.9"/>
<text x="165.90" y="341.70" font-size="8.6" text-anchor="middle">80</text>
<text transform="translate(10.20 252.85) rotate(-90)" font-size="11.4" text-anchor="middle">Pressure (mb)</text>
<text transform="translate(226.40 252.85) rotate(-90)" font-size="11.4" text-anchor="middle">Height (km)</text>
<text x="181.40" y="194.40" font-size="9" text-anchor="middle">(b)</text>
<clipPath id="c3"><rect x="49.70" y="355.50" width="143.60" height="144.10"/></clipPath>
<g clip-path="url(#c3)">
<rect x="49.70" y="355.50" width="143.60" height="144.10" fill="#f8f8ff"/>
<path d="M230.0 499.5C201.7 499.5 89.5 499.5 60.0 499.5C30.5 499.5 54.3 499.4 52.9 499.3C51.5 499.2 51.8 499.2 51.5 499.0C51.2 498.8 51.1 498.7 51.0 498.1C50.9 497.4 50.8 504.8 50.8 495.1C50.8 485.4 50.9 458.4 50.8 440.0C50.7 421.6 50.3 396.2 50.4 384.6C50.5 373.1 50.7 374.5 51.3 370.8C51.8 367.0 52.8 364.4 53.9 362.1C54.9 359.9 56.8 358.5 57.8 357.3C58.9 356.1 59.7 357.2 60.1 354.8C60.5 352.5 60.4 345.0 60.4 343.1L79.0 345.0C79.4 346.9 80.2 353.3 81.4 356.2C82.6 359.1 84.6 360.0 86.0 362.1C87.4 364.2 88.6 366.3 89.9 368.6C91.2 370.9 92.5 373.4 93.8 375.7C95.1 378.0 96.2 380.0 97.7 382.2C99.2 384.4 101.0 386.6 102.9 388.7C104.9 390.8 107.2 393.0 109.4 394.6C111.6 396.2 114.0 397.5 115.8 398.5C117.6 399.5 118.5 399.5 120.0 400.4C121.5 401.3 122.7 402.9 125.0 403.9C127.3 404.8 130.8 405.6 133.7 405.9C136.6 406.2 139.5 405.8 142.3 405.6C145.2 405.4 148.1 404.9 151.0 404.7C153.9 404.5 157.1 404.1 160.0 404.2C162.9 404.3 165.9 404.8 168.5 405.4C171.1 406.0 173.1 407.1 175.4 408.0C177.7 408.9 180.0 409.9 182.3 410.6C184.6 411.3 187.4 411.7 189.3 412.0C191.1 412.3 189.8 412.2 193.2 412.3C196.7 412.5 207.2 412.8 210.0 412.9Z" fill="#aaaaf2" stroke="#141414" stroke-opacity="0.7" stroke-width="0.4"/>
<path d="M230.0 499.3C201.7 499.3 89.3 499.4 60.0 499.3C30.7 499.2 55.6 499.1 54.4 499.0C53.2 498.9 53.0 498.9 52.6 498.6C52.2 498.4 52.1 498.2 51.9 497.4C51.8 496.6 51.7 504.0 51.7 493.6C51.7 483.2 51.8 450.3 51.7 435.0C51.6 419.7 51.2 410.3 51.3 401.9C51.3 393.6 51.5 389.8 51.8 384.6C52.0 379.4 52.0 374.4 52.6 370.8C53.3 367.2 54.2 365.2 55.6 363.0C56.9 360.8 59.1 359.1 60.8 357.8C62.5 356.5 64.7 357.5 65.6 355.0C66.6 352.6 66.2 345.1 66.3 343.1L72.0 345.0C72.4 346.9 73.0 353.8 74.3 356.2C75.5 358.6 77.8 358.0 79.5 359.5C81.2 361.0 83.2 363.2 84.7 365.3C86.2 367.4 87.4 369.5 88.6 371.8C89.8 374.1 90.7 376.7 91.8 379.0C92.9 381.3 93.9 383.4 95.1 385.5C96.3 387.6 97.5 389.5 99.0 391.3C100.5 393.1 102.3 394.8 104.2 396.5C106.1 398.2 108.7 400.3 110.6 401.7C112.5 403.1 114.2 404.0 115.8 404.9C117.4 405.8 118.5 406.4 120.0 406.9C121.5 407.4 122.7 407.7 125.0 408.2C127.3 408.7 130.8 409.7 133.7 409.9C136.6 410.1 139.5 409.6 142.3 409.4C145.2 409.2 148.1 408.8 151.0 408.7C153.9 408.6 157.4 408.4 160.0 408.7C162.6 409.0 164.5 409.7 166.8 410.6C169.0 411.5 171.7 412.9 173.7 414.1C175.7 415.2 176.9 416.5 178.9 417.5C180.9 418.5 183.4 419.4 185.8 420.1C188.2 420.9 189.2 421.3 193.2 421.9C197.3 422.4 207.2 423.3 210.0 423.6Z" fill="#3c3cf0" stroke="#141414" stroke-opacity="0.7" stroke-width="0.4"/>
<path d="M230.0 497.5C217.5 507.6 152.0 497.4 135.0 497.7C118.0 497.9 140.5 498.8 128.0 499.0C115.5 499.2 72.0 499.1 60.0 499.0C48.0 498.9 56.9 498.8 55.9 498.7C54.9 498.5 54.2 498.6 53.7 498.2C53.2 497.9 53.1 497.8 52.9 496.7C52.7 495.7 52.6 503.2 52.6 492.1C52.6 480.9 52.6 445.0 52.6 430.0C52.6 415.0 52.4 410.1 52.5 401.9C52.5 393.8 52.6 386.4 53.0 381.2C53.4 376.0 53.7 373.5 54.7 370.8C55.7 368.0 57.2 366.3 59.0 364.7C60.9 363.1 63.4 361.5 66.0 361.3C68.5 361.0 72.0 362.3 74.3 363.4C76.6 364.5 77.9 366.1 79.5 367.9C81.1 369.7 82.7 372.2 84.0 374.4C85.3 376.6 86.3 378.7 87.3 380.9C88.3 383.1 88.9 385.3 89.9 387.4C90.9 389.5 91.9 391.4 93.1 393.3C94.3 395.2 95.6 396.9 97.0 398.5C98.4 400.1 99.8 401.5 101.6 403.0C103.4 404.5 105.9 406.2 108.1 407.5C110.2 408.8 112.5 410.0 114.5 410.8C116.5 411.6 118.0 411.5 120.0 412.1C122.0 412.7 124.2 413.7 126.8 414.2C129.3 414.7 132.5 415.1 135.4 415.1C138.3 415.1 141.2 414.4 144.1 414.2C147.0 414.1 150.1 414.2 152.7 414.2C155.4 414.3 158.0 413.9 160.0 414.6C162.0 415.3 163.3 417.0 165.0 418.4C166.7 419.8 168.8 421.3 170.2 422.7C171.7 424.2 172.7 425.8 173.7 427.1C174.7 428.3 174.8 429.1 176.3 430.0C177.7 430.9 180.2 431.7 182.3 432.6C184.5 433.5 187.4 434.6 189.3 435.2C191.1 435.8 189.8 435.8 193.2 436.1C196.7 436.3 203.9 426.7 210.0 436.9C216.2 447.2 242.5 487.4 230.0 497.5Z" fill="#14aa14" stroke="#141414" stroke-opacity="0.7" stroke-width="0.4"/>
<path d="M230.0 496.8C211.7 498.5 128.0 497.2 100.0 497.4C72.0 497.6 69.1 498.0 62.0 498.2C54.9 498.4 58.6 498.4 57.4 498.4C56.2 498.3 55.4 498.2 54.8 497.8C54.2 497.5 54.0 497.3 53.8 496.1C53.6 494.9 53.6 501.6 53.5 490.6C53.4 479.5 53.5 444.8 53.5 430.0C53.5 415.2 53.4 409.5 53.5 401.9C53.6 394.4 53.8 389.2 54.2 384.6C54.6 380.0 55.0 376.8 55.9 374.2C56.9 371.6 58.2 370.3 59.9 369.0C61.6 367.8 64.0 366.9 66.0 366.8C68.0 366.7 70.2 367.2 72.0 368.2C73.9 369.1 75.6 370.8 77.2 372.5C78.8 374.2 80.4 376.4 81.6 378.6C82.7 380.7 83.3 383.6 84.2 385.5C85.1 387.4 85.6 388.1 86.9 390.0C88.3 391.9 90.7 394.6 92.1 396.9C93.6 399.2 94.4 401.4 95.6 403.9C96.7 406.3 97.6 409.5 99.0 411.6C100.5 413.8 102.2 415.4 104.2 416.8C106.3 418.3 108.6 419.6 111.2 420.3C113.8 421.0 116.9 420.9 119.8 421.2C122.7 421.5 125.6 421.9 128.5 422.0C131.4 422.2 134.3 421.9 137.1 422.0C140.0 422.2 143.2 422.5 145.8 422.9C148.4 423.3 151.0 423.5 152.7 424.6C154.5 425.8 155.3 428.1 156.2 429.8C157.1 431.6 156.5 433.4 157.9 435.0C159.4 436.6 163.0 437.8 165.0 439.5C167.1 441.3 168.5 443.7 170.2 445.6C171.9 447.5 173.8 449.0 175.4 450.8C177.0 452.5 178.7 454.0 179.7 456.0C180.8 458.0 181.0 460.6 181.5 462.9C181.9 465.2 181.8 467.8 182.3 469.8C182.9 471.8 183.8 473.4 184.9 475.0C186.1 476.6 187.9 478.1 189.3 479.4C190.6 480.6 189.8 481.5 193.2 482.8C196.7 484.1 203.9 484.8 210.0 487.1C216.2 489.5 248.3 495.1 230.0 496.8Z" fill="#38ba14" stroke="#141414" stroke-opacity="0.7" stroke-width="0.4"/>
<path d="M55.9 497.4C54.0 497.0 55.0 496.8 54.8 495.4C54.5 494.0 54.5 500.0 54.4 489.1C54.3 478.1 54.4 443.7 54.4 430.0C54.4 416.3 54.2 413.8 54.4 407.1C54.5 400.4 54.8 394.3 55.2 389.8C55.7 385.4 56.2 382.8 57.0 380.3C57.7 377.8 58.6 376.4 59.9 375.1C61.3 373.8 63.4 372.7 65.1 372.5C66.8 372.4 68.7 373.2 70.3 374.2C71.9 375.3 73.3 376.8 74.6 378.6C75.9 380.3 77.2 382.5 78.1 384.6C79.0 386.8 79.9 389.8 80.2 391.6C80.5 393.3 79.2 393.7 80.0 395.2C80.8 396.7 83.5 398.4 85.2 400.4C86.9 402.4 88.7 404.9 90.4 407.3C92.1 409.8 93.9 412.8 95.6 415.1C97.3 417.4 98.8 419.6 100.8 421.2C102.8 422.8 105.4 423.6 107.7 424.6C110.0 425.6 112.3 426.4 114.6 427.2C116.9 428.1 119.2 429.0 121.6 429.8C123.9 430.7 126.5 431.4 128.5 432.4C130.5 433.4 132.4 434.6 133.7 435.9C135.0 437.2 135.9 438.3 136.3 440.2C136.6 442.1 136.3 445.0 135.8 447.1C135.2 449.3 133.9 451.2 133.2 453.2C132.4 455.2 131.5 457.4 131.4 459.3C131.4 461.1 131.8 463.1 132.8 464.5C133.8 465.8 136.1 465.8 137.3 467.2C138.5 468.7 139.0 471.4 139.9 473.3C140.8 475.2 140.9 477.3 142.5 478.5C144.1 479.6 146.8 479.8 149.4 480.2C152.0 480.6 155.6 480.4 158.1 481.1C160.5 481.8 162.8 483.2 164.2 484.5C165.5 485.8 166.4 487.4 166.4 488.9C166.4 490.3 165.8 492.0 164.2 493.2C162.5 494.4 159.4 495.4 156.4 495.8C153.3 496.2 149.1 495.8 146.0 495.5C142.8 495.1 139.9 494.4 137.3 493.7C134.7 493.1 132.1 491.7 130.4 491.6C128.7 491.6 128.1 492.5 126.9 493.2C125.8 493.9 125.3 495.1 123.5 495.8C121.7 496.5 121.4 497.2 116.2 497.5C110.9 497.9 100.3 497.8 91.9 497.9C83.6 497.9 72.0 498.0 66.0 497.9C60.0 497.8 57.8 497.9 55.9 497.4Z" fill="#96dc0a" stroke="#141414" stroke-opacity="0.7" stroke-width="0.4"/>
<path d="M57.0 497.1C55.3 496.6 56.0 496.4 55.7 494.8C55.4 493.2 55.4 497.5 55.3 487.5C55.2 477.6 55.3 447.0 55.3 435.0C55.3 423.0 55.1 421.6 55.2 415.8C55.4 410.0 55.8 404.8 56.1 400.2C56.5 395.6 56.7 391.3 57.3 388.1C58.0 384.9 58.8 382.8 59.9 381.2C61.1 379.6 62.8 378.6 64.2 378.6C65.7 378.6 67.3 379.9 68.6 381.2C69.9 382.5 71.0 384.3 72.0 386.4C73.0 388.4 73.9 391.0 74.6 393.3C75.4 395.6 76.0 397.9 76.7 400.2C77.4 402.5 78.4 405.2 79.0 407.1C79.5 409.0 79.0 410.5 80.0 411.6C81.0 412.8 83.8 412.9 85.2 414.2C86.6 415.5 87.5 417.7 88.7 419.4C89.8 421.2 91.0 422.9 92.1 424.6C93.3 426.4 94.1 428.4 95.6 429.8C97.0 431.3 99.0 432.3 100.8 433.3C102.5 434.3 104.4 434.9 106.0 435.9C107.6 436.9 109.3 437.8 110.3 439.4C111.3 440.9 111.7 443.2 112.0 445.4C112.3 447.6 111.7 450.0 112.0 452.3C112.3 454.6 112.9 457.0 113.8 459.3C114.6 461.6 116.2 463.7 117.2 466.2C118.3 468.7 119.0 472.1 120.0 474.2C121.0 476.2 122.5 476.9 123.5 478.5C124.4 480.1 125.1 481.9 125.5 483.7C126.0 485.4 126.4 487.3 126.1 488.9C125.7 490.5 125.1 492.0 123.5 493.2C121.8 494.4 118.6 495.2 116.2 495.8C113.8 496.4 113.3 496.6 109.3 496.8C105.2 497.1 99.2 497.4 91.9 497.5C84.7 497.6 71.8 497.6 66.0 497.5C60.1 497.5 58.7 497.5 57.0 497.1Z" fill="#d2eb00" stroke="#141414" stroke-opacity="0.7" stroke-width="0.4"/>
<path d="M58.1 496.7C56.6 496.1 57.0 495.9 56.7 494.1C56.4 492.3 56.3 495.0 56.2 486.0C56.1 477.0 56.1 451.7 56.2 440.0C56.3 428.3 56.5 422.1 56.8 415.8C57.1 409.5 57.7 405.8 58.2 401.9C58.7 398.1 59.0 394.7 59.9 392.4C60.8 390.1 62.2 388.1 63.4 388.1C64.5 388.1 65.8 390.4 66.8 392.4C67.8 394.4 68.6 397.5 69.4 400.2C70.3 403.0 71.3 406.0 72.0 408.9C72.8 411.8 73.2 414.9 73.8 417.5C74.3 420.1 74.5 422.7 75.5 424.5C76.5 426.2 78.4 427.1 80.0 428.1C81.6 429.1 83.8 429.5 85.2 430.7C86.6 431.8 87.6 433.4 88.7 435.0C89.7 436.6 90.2 438.5 91.3 440.2C92.3 441.9 93.7 443.7 94.7 445.4C95.7 447.1 96.6 448.6 97.3 450.6C98.0 452.6 98.3 455.2 99.0 457.5C99.8 459.8 100.8 462.4 101.6 464.5C102.5 466.5 103.0 467.7 104.2 470.0C105.5 472.3 107.8 475.9 109.3 478.5C110.7 481.1 111.7 483.5 112.7 485.4C113.7 487.3 115.5 488.4 115.3 489.7C115.2 491.0 113.7 492.2 111.9 493.2C110.0 494.2 107.4 495.1 104.1 495.8C100.8 496.5 98.3 496.9 91.9 497.2C85.6 497.4 71.6 497.4 66.0 497.4C60.3 497.3 59.6 497.2 58.1 496.7Z" fill="#fcfc00" stroke="#141414" stroke-opacity="0.7" stroke-width="0.4"/>
<path d="M59.1 496.3C57.7 495.7 57.9 495.5 57.6 493.6C57.3 491.8 57.2 493.2 57.1 485.1C57.0 477.0 57.0 454.2 57.1 445.0C57.2 435.8 57.5 434.3 57.8 430.0C58.2 425.7 58.6 422.5 59.0 419.3C59.5 416.0 60.1 413.1 60.8 410.6C61.5 408.2 62.6 404.5 63.4 404.5C64.2 404.5 64.9 408.2 65.6 410.6C66.3 413.1 67.0 416.0 67.7 419.3C68.4 422.5 68.6 427.3 69.8 430.0C70.9 432.7 73.1 433.5 74.6 435.2C76.2 436.9 77.5 439.2 79.0 440.4C80.4 441.5 82.2 441.0 83.3 442.1C84.4 443.3 84.8 445.0 85.4 447.3C85.9 449.6 85.9 453.4 86.8 456.0C87.6 458.6 88.9 460.6 90.2 462.9C91.5 465.2 93.4 467.2 94.5 469.8C95.7 472.4 96.4 475.9 97.1 478.5C97.9 481.1 98.4 483.5 98.9 485.4C99.3 487.3 100.2 488.4 99.7 489.7C99.3 491.0 98.2 492.2 96.3 493.2C94.4 494.2 91.2 495.2 88.5 495.8C85.7 496.4 83.6 496.8 79.8 497.0C76.1 497.2 69.4 497.3 66.0 497.2C62.5 497.1 60.5 496.9 59.1 496.3Z" fill="#ffc814" stroke="#141414" stroke-opacity="0.7" stroke-width="0.4"/>
<path d="M60.0 496.0C58.8 495.4 58.8 495.2 58.5 493.3C58.2 491.4 58.1 488.0 58.0 484.8C57.9 481.6 57.8 479.7 58.0 474.0C58.2 468.3 58.6 456.7 59.0 450.8C59.5 444.9 60.1 441.8 60.8 438.7C61.5 435.5 62.5 432.0 63.4 431.7C64.2 431.4 65.1 434.6 66.0 436.9C66.8 439.2 67.7 442.7 68.6 445.6C69.4 448.5 70.3 451.6 71.2 454.2C72.0 456.8 72.8 459.0 73.8 461.2C74.8 463.3 75.9 465.2 77.2 467.2C78.5 469.2 80.3 471.1 81.6 473.3C82.9 475.5 84.2 478.2 85.0 480.2C85.8 482.2 86.6 483.8 86.4 485.4C86.3 487.0 85.4 488.4 84.2 489.7C82.9 491.0 80.8 492.2 79.0 493.2C77.1 494.2 75.1 495.4 72.9 496.0C70.7 496.6 68.1 496.8 66.0 496.8C63.8 496.8 61.2 496.6 60.0 496.0Z" fill="#ffa00a" stroke="#141414" stroke-opacity="0.7" stroke-width="0.4"/>
<path d="M66.0 458.6C65.1 458.9 64.2 461.9 63.4 464.6C62.6 467.4 61.8 471.6 61.1 475.0C60.5 478.5 59.9 482.5 59.6 485.4C59.2 488.3 58.8 490.5 59.0 492.3C59.2 494.1 59.6 495.4 60.8 496.1C61.9 496.9 64.4 496.8 66.0 496.7C67.6 496.6 68.9 496.2 70.3 495.5C71.7 494.7 73.6 493.4 74.6 492.3C75.6 491.2 76.4 490.3 76.4 488.9C76.4 487.4 75.4 485.7 74.6 483.7C73.9 481.7 72.8 479.1 72.0 476.8C71.3 474.4 70.9 472.1 70.3 469.8C69.7 467.5 69.3 464.8 68.6 462.9C67.8 461.0 66.8 458.3 66.0 458.6Z" fill="#ff7205" stroke="#141414" stroke-opacity="0.7" stroke-width="0.4"/>
</g>
<rect x="49.70" y="355.50" width="143.60" height="144.10" fill="none" stroke="#111" stroke-width="1.1"/>
<line x1="45.70" y1="355.50" x2="49.70" y2="355.50" stroke="#000" stroke-width="0.9"/>
<text x="38.80" y="358.60" font-size="8.6" text-anchor="end">100</text>
<line x1="45.70" y1="380.87" x2="49.70" y2="380.87" stroke="#000" stroke-width="0.9"/>
<text x="38.80" y="383.97" font-size="8.6" text-anchor="end">150</text>
<line x1="45.70" y1="398.88" x2="49.70" y2="398.88" stroke="#000" stroke-width="0.9"/>
<text x="38.80" y="401.98" font-size="8.6" text-anchor="end">200</text>
<line x1="45.70" y1="412.84" x2="49.70" y2="412.84" stroke="#000" stroke-width="0.9"/>
<text x="38.80" y="415.94" font-size="8.6" text-anchor="end">250</text>
<line x1="45.70" y1="424.25" x2="49.70" y2="424.25" stroke="#000" stroke-width="0.9"/>
<text x="38.80" y="427.35" font-size="8.6" text-anchor="end">300</text>
<line x1="45.70" y1="442.26" x2="49.70" y2="442.26" stroke="#000" stroke-width="0.9"/>
<text x="38.80" y="445.36" font-size="8.6" text-anchor="end">400</text>
<line x1="45.70" y1="456.22" x2="49.70" y2="456.22" stroke="#000" stroke-width="0.9"/>
<text x="38.80" y="459.32" font-size="8.6" text-anchor="end">500</text>
<line x1="45.70" y1="477.28" x2="49.70" y2="477.28" stroke="#000" stroke-width="0.9"/>
<text x="38.80" y="480.38" font-size="8.6" text-anchor="end">700</text>
<line x1="45.70" y1="489.43" x2="49.70" y2="489.43" stroke="#000" stroke-width="0.9"/>
<text x="38.80" y="492.53" font-size="8.6" text-anchor="end">850</text>
<line x1="45.70" y1="499.60" x2="49.70" y2="499.60" stroke="#000" stroke-width="0.9"/>
<text x="38.80" y="502.70" font-size="8.6" text-anchor="end">1000</text>
<line x1="193.30" y1="485.24" x2="197.50" y2="485.24" stroke="#000" stroke-width="0.9"/>
<text x="203.40" y="488.54" font-size="8.6" text-anchor="start">2</text>
<line x1="193.30" y1="469.32" x2="197.50" y2="469.32" stroke="#000" stroke-width="0.9"/>
<text x="203.40" y="472.62" font-size="8.6" text-anchor="start">4</text>
<line x1="193.30" y1="452.59" x2="197.50" y2="452.59" stroke="#000" stroke-width="0.9"/>
<text x="203.40" y="455.89" font-size="8.6" text-anchor="start">6</text>
<line x1="193.30" y1="434.96" x2="197.50" y2="434.96" stroke="#000" stroke-width="0.9"/>
<text x="203.40" y="438.26" font-size="8.6" text-anchor="start">8</text>
<line x1="193.30" y1="416.34" x2="197.50" y2="416.34" stroke="#000" stroke-width="0.9"/>
<text x="203.40" y="419.64" font-size="8.6" text-anchor="start">10</text>
<line x1="193.30" y1="396.75" x2="197.50" y2="396.75" stroke="#000" stroke-width="0.9"/>
<text x="203.40" y="400.05" font-size="8.6" text-anchor="start">12</text>
<line x1="193.30" y1="377.01" x2="197.50" y2="377.01" stroke="#000" stroke-width="0.9"/>
<text x="203.40" y="380.31" font-size="8.6" text-anchor="start">14</text>
<line x1="193.30" y1="357.27" x2="197.50" y2="357.27" stroke="#000" stroke-width="0.9"/>
<text x="203.40" y="360.57" font-size="8.6" text-anchor="start">16</text>
<line x1="49.70" y1="499.60" x2="49.70" y2="503.90" stroke="#000" stroke-width="0.9"/>
<text x="49.70" y="516.40" font-size="8.6" text-anchor="middle">0</text>
<line x1="78.75" y1="499.60" x2="78.75" y2="503.90" stroke="#000" stroke-width="0.9"/>
<text x="78.75" y="516.40" font-size="8.6" text-anchor="middle">20</text>
<line x1="107.80" y1="499.60" x2="107.80" y2="503.90" stroke="#000" stroke-width="0.9"/>
<text x="107.80" y="516.40" font-size="8.6" text-anchor="middle">40</text>
<line x1="136.85" y1="499.60" x2="136.85" y2="503.90" stroke="#000" stroke-width="0.9"/>
<text x="136.85" y="516.40" font-size="8.6" text-anchor="middle">60</text>
<line x1="165.90" y1="499.60" x2="165.90" y2="503.90" stroke="#000" stroke-width="0.9"/>
<text x="165.90" y="516.40" font-size="8.6" text-anchor="middle">80</text>
<text transform="translate(10.20 427.55) rotate(-90)" font-size="11.4" text-anchor="middle">Pressure (mb)</text>
<text transform="translate(226.40 427.55) rotate(-90)" font-size="11.4" text-anchor="middle">Height (km)</text>
<text x="181.40" y="369.10" font-size="9" text-anchor="middle">(c)</text>
<clipPath id="c4"><rect x="280.70" y="6.10" width="143.60" height="144.10"/></clipPath>
<g clip-path="url(#c4)">
<rect x="280.70" y="6.10" width="143.60" height="144.10" fill="#f8f8ff"/>
<path d="M281.4 159.7C281.4 157.3 281.5 150.4 281.6 145.8C281.6 141.2 281.6 140.0 281.7 131.9C281.9 123.9 282.2 106.0 282.4 97.3C282.7 88.7 282.9 87.6 283.1 80.0C283.4 72.4 283.7 59.5 284.0 51.9C284.3 44.4 284.6 40.4 284.9 34.6C285.1 28.9 285.5 22.1 285.7 17.3C285.9 12.6 286.2 10.1 286.2 6.1C286.3 2.0 286.2 -4.8 286.2 -6.9L320.5 -4.0C320.8 -2.2 321.2 3.9 322.0 6.6C322.8 9.3 323.9 10.1 325.3 12.1C326.7 14.1 328.6 16.7 330.5 18.6C332.4 20.6 335.1 22.1 337.0 23.8C338.9 25.5 340.7 27.1 342.2 29.0C343.7 30.9 344.6 33.1 346.1 35.5C347.6 37.9 349.6 41.0 351.3 43.3C353.0 45.6 354.6 47.4 356.5 49.1C358.4 50.8 361.2 52.4 363.0 53.6C364.8 54.9 365.7 55.7 367.5 56.6C369.3 57.5 371.6 58.4 374.0 59.2C376.4 60.0 379.4 60.8 381.8 61.2C384.2 61.6 386.1 61.6 388.3 61.8C390.5 62.0 393.1 62.0 394.8 62.5C396.5 63.0 397.0 64.1 398.7 65.1C400.4 66.1 402.8 67.4 405.2 68.3C407.6 69.2 410.3 70.0 412.9 70.5C415.5 71.0 416.5 71.1 421.0 71.3C425.5 71.5 436.8 71.5 440.0 71.5L441.0 170.0Z" fill="#aaaaf2" stroke="#141414" stroke-opacity="0.7" stroke-width="0.4"/>
<path d="M282.4 159.7C282.5 157.3 282.5 150.4 282.6 145.8C282.7 141.2 282.6 140.0 282.8 131.9C283.0 123.9 283.5 106.0 283.8 97.3C284.2 88.7 284.4 87.6 284.9 80.0C285.3 72.4 286.1 59.5 286.6 51.9C287.1 44.4 287.5 40.4 288.0 34.6C288.4 28.9 288.9 22.1 289.2 17.3C289.5 12.6 289.6 10.1 289.7 6.1C289.8 2.0 289.7 -4.8 289.7 -6.9L314.0 -4.0C314.2 -2.2 314.7 3.7 315.5 6.6C316.3 9.5 317.6 11.2 318.8 13.4C320.0 15.6 321.2 17.9 322.7 19.9C324.2 21.8 325.9 23.5 327.9 25.1C329.8 26.7 332.6 27.9 334.4 29.6C336.2 31.3 337.5 33.4 338.9 35.5C340.3 37.6 341.2 39.8 342.8 42.0C344.4 44.2 346.9 46.5 348.7 48.5C350.5 50.5 351.9 52.6 353.9 54.3C355.8 56.0 358.1 57.4 360.4 58.8C362.7 60.2 365.2 61.4 367.5 62.5C369.8 63.6 371.6 64.6 374.0 65.7C376.4 66.8 379.2 67.8 381.8 69.0C384.4 70.2 387.2 71.7 389.6 72.9C392.0 74.1 393.9 75.1 396.1 76.1C398.3 77.1 400.4 78.0 402.6 78.7C404.8 79.4 407.0 79.6 409.1 80.0C411.2 80.4 412.9 80.7 415.5 80.9C418.1 81.2 420.4 81.3 424.5 81.5C428.6 81.7 437.4 81.9 440.0 82.0L441.0 170.0Z" fill="#3c3cf0" stroke="#141414" stroke-opacity="0.7" stroke-width="0.4"/>
<path d="M284.2 159.7C284.2 157.3 284.3 150.4 284.3 145.8C284.4 141.2 284.2 140.0 284.5 131.9C284.8 123.9 285.8 106.0 286.2 97.3C286.6 88.7 286.6 85.3 286.9 80.0C287.2 74.7 287.5 71.1 288.0 65.8C288.4 60.5 289.1 54.3 289.7 48.5C290.3 42.7 291.1 36.4 291.8 31.2C292.4 26.0 293.1 21.5 293.5 17.3C293.9 13.1 294.2 10.1 294.4 6.1C294.5 2.0 294.4 -4.8 294.4 -6.9L309.0 -4.0C309.1 -2.3 309.1 3.6 309.4 6.1C309.7 8.6 310.1 8.7 311.0 10.8C311.9 12.9 313.5 16.0 314.9 18.6C316.3 21.2 317.9 24.0 319.4 26.4C320.9 28.8 322.4 30.8 324.0 32.9C325.6 35.0 327.5 36.8 329.2 38.7C330.9 40.7 332.7 42.7 334.4 44.6C336.1 46.5 337.8 48.5 339.6 50.4C341.4 52.3 343.4 54.5 345.4 56.2C347.3 57.9 349.7 59.7 351.3 60.8C352.9 61.9 353.6 62.3 355.2 63.0C356.8 63.7 358.9 64.1 361.0 65.1C363.1 66.1 365.3 67.7 367.5 69.0C369.7 70.3 371.6 71.4 374.0 72.9C376.4 74.4 379.2 76.5 381.8 78.1C384.4 79.7 387.0 81.2 389.6 82.6C392.2 84.0 394.8 85.3 397.4 86.5C400.0 87.7 402.6 88.9 405.2 89.8C407.8 90.7 410.3 91.5 412.9 92.1C415.5 92.7 416.5 93.2 421.0 93.6C425.5 94.0 436.8 94.3 440.0 94.5L441.0 170.0Z" fill="#14aa14" stroke="#141414" stroke-opacity="0.7" stroke-width="0.4"/>
<path d="M301.8 10.0C301.6 11.3 301.0 14.4 300.4 17.3C299.9 20.3 299.6 24.2 298.7 27.7C297.8 31.2 296.3 34.1 295.2 38.1C294.2 42.1 293.5 46.8 292.6 51.9C291.8 57.1 291.0 64.6 290.4 69.3C289.8 73.9 289.5 75.3 289.2 80.0C288.8 84.7 288.5 91.5 288.3 97.3C288.1 103.1 288.0 108.9 288.0 114.6C287.9 120.4 287.9 127.3 288.0 131.9C288.0 136.6 288.0 139.7 288.3 142.3C288.6 145.0 288.3 146.6 289.7 147.7C291.1 148.8 286.8 148.8 297.0 149.1C307.2 149.4 336.2 149.2 351.0 149.3C365.8 149.3 375.5 149.3 385.6 149.3C395.7 149.2 405.1 149.1 411.6 148.9C418.1 148.7 419.5 148.4 424.4 148.2C429.3 148.0 438.3 147.8 441.0 147.7L441.0 131.9C438.3 131.9 427.5 132.8 424.4 131.9C421.4 131.1 423.4 128.8 422.9 126.8C422.3 124.7 422.0 122.0 421.1 119.8C420.3 117.7 419.3 115.2 417.7 113.8C416.1 112.3 414.1 111.9 411.6 111.2C409.2 110.4 405.8 109.9 402.9 109.4C400.1 109.0 396.9 109.0 394.3 108.6C391.7 108.1 388.5 107.2 387.4 106.8C386.2 106.5 387.8 107.4 387.2 106.7C386.6 105.9 384.9 104.1 383.7 102.3C382.6 100.6 381.7 98.3 380.3 96.3C378.8 94.3 376.8 92.4 375.1 90.2C373.3 88.1 371.6 85.6 369.9 83.3C368.1 81.0 366.4 78.2 364.7 76.4C362.9 74.5 361.5 73.3 359.5 72.0C357.5 70.7 354.9 69.9 352.6 68.6C350.2 67.3 347.9 66.0 345.6 64.2C343.3 62.5 341.0 60.2 338.7 58.2C336.4 56.2 334.1 54.1 331.8 52.1C329.5 50.1 327.0 48.1 324.9 46.1C322.7 44.0 321.0 42.0 318.8 40.0C316.6 38.0 313.6 36.1 311.7 33.8C309.8 31.4 308.7 28.7 307.4 26.0C306.1 23.2 304.5 18.8 303.9 17.3Z" fill="#38ba14" stroke="#141414" stroke-opacity="0.7" stroke-width="0.4"/>
<path d="M304.8 42.4C302.9 42.5 300.9 44.3 299.6 45.9C298.3 47.5 297.7 49.5 297.0 51.9C296.3 54.4 295.8 57.1 295.2 60.6C294.7 64.1 293.9 69.5 293.5 72.7C293.1 76.0 293.0 75.9 292.6 80.0C292.3 84.1 291.8 91.5 291.4 97.3C291.1 103.1 290.9 108.9 290.7 114.6C290.6 120.4 290.5 127.3 290.4 131.9C290.3 136.6 290.2 139.7 290.4 142.3C290.6 144.9 290.4 146.5 291.8 147.5C293.2 148.6 288.8 148.4 298.7 148.6C308.6 148.7 338.0 148.6 351.0 148.6C364.0 148.5 369.8 148.5 377.0 148.4C384.2 148.3 390.0 148.2 394.3 147.9C398.6 147.5 400.5 147.1 402.9 146.3C405.4 145.6 407.7 144.3 409.0 143.4C410.3 142.4 411.2 141.5 410.7 140.6C410.3 139.7 408.6 139.2 406.4 138.0C404.2 136.9 400.6 135.0 397.8 133.7C394.9 132.4 392.0 131.5 389.1 130.2C386.2 128.9 383.2 127.5 380.4 125.9C377.7 124.3 374.3 122.3 372.6 120.7C371.0 119.1 371.6 118.1 370.7 116.2C369.8 114.3 368.4 111.6 367.3 109.3C366.1 107.0 365.0 104.6 363.8 102.3C362.7 100.0 361.5 97.7 360.4 95.4C359.2 93.1 357.9 90.8 356.9 88.5C355.9 86.2 355.3 83.7 354.3 81.6C353.3 79.4 352.6 77.4 350.8 75.5C349.1 73.6 346.2 72.0 343.9 70.3C341.6 68.6 339.3 67.0 337.0 65.1C334.7 63.2 332.4 61.1 330.0 59.0C327.7 57.0 325.4 54.9 323.1 53.0C320.8 51.1 318.2 49.1 316.2 47.8C314.2 46.5 312.9 46.1 311.0 45.2C309.1 44.3 306.7 42.3 304.8 42.4Z" fill="#96dc0a" stroke="#141414" stroke-opacity="0.7" stroke-width="0.4"/>
<path d="M311.7 57.5C310.1 57.6 307.9 58.5 306.5 59.7C305.1 61.0 304.0 62.8 303.0 64.9C302.0 67.1 301.2 70.2 300.4 72.7C299.7 75.2 299.3 77.1 298.7 80.0C298.1 82.9 297.6 86.6 297.0 90.4C296.3 94.1 295.5 98.5 294.9 102.5C294.3 106.6 293.6 110.3 293.2 114.6C292.7 119.0 292.4 124.2 292.1 128.5C291.9 132.8 291.7 137.6 291.8 140.6C291.8 143.6 291.0 145.5 292.5 146.7C293.9 147.9 290.7 148.0 300.4 147.9C310.2 147.7 341.7 146.6 351.0 145.8C360.3 145.1 355.0 144.5 356.2 143.4C357.3 142.2 357.8 140.8 357.9 138.9C358.1 137.0 357.6 134.5 357.1 131.9C356.5 129.4 355.1 126.2 354.5 123.3C353.9 120.4 354.2 117.1 353.4 114.5C352.7 111.8 351.1 109.8 350.0 107.5C348.8 105.2 347.8 102.9 346.5 100.6C345.2 98.3 343.3 96.0 342.2 93.7C341.0 91.4 340.4 88.8 339.6 86.8C338.7 84.7 338.3 83.6 337.0 81.6C335.7 79.5 333.5 76.8 331.8 74.6C330.0 72.5 328.3 70.4 326.6 68.6C324.9 66.7 323.1 65.0 321.4 63.4C319.7 61.8 317.8 60.0 316.2 59.0C314.6 58.1 313.3 57.4 311.7 57.5Z" fill="#d2eb00" stroke="#141414" stroke-opacity="0.7" stroke-width="0.4"/>
<path d="M312.6 67.5C311.2 67.5 309.5 69.6 308.2 71.0C306.9 72.4 305.6 74.7 304.8 76.2C303.9 77.7 303.6 77.9 303.0 80.0C302.5 82.1 302.0 85.5 301.3 88.7C300.6 91.8 299.6 95.6 298.7 99.0C297.8 102.5 296.8 106.0 296.1 109.4C295.4 112.9 294.9 116.1 294.4 119.8C293.9 123.6 293.5 128.2 293.2 131.9C292.9 135.7 292.6 139.9 292.6 142.3C292.7 144.8 291.3 146.0 293.5 146.8C295.7 147.7 299.3 147.5 305.6 147.5C312.0 147.6 325.5 147.6 331.6 147.2C337.7 146.8 339.7 145.9 342.0 144.9C344.3 144.0 345.0 142.8 345.5 141.5C345.9 140.2 345.5 139.0 344.6 137.1C343.7 135.3 341.6 132.8 340.3 130.2C339.0 127.6 337.8 124.8 336.8 121.6C335.8 118.4 335.1 113.9 334.4 111.0C333.7 108.1 333.4 106.4 332.6 104.1C331.9 101.8 330.9 99.5 330.0 97.1C329.2 94.8 328.5 92.7 327.5 90.2C326.4 87.8 325.1 84.7 324.0 82.4C322.8 80.1 321.8 78.2 320.5 76.4C319.2 74.5 317.5 72.6 316.2 71.2C314.9 69.7 313.9 67.6 312.6 67.5Z" fill="#fcfc00" stroke="#141414" stroke-opacity="0.7" stroke-width="0.4"/>
<path d="M313.4 80.5C312.0 80.5 310.4 83.0 309.1 85.2C307.8 87.4 306.6 91.0 305.6 93.9C304.6 96.7 303.9 99.6 303.0 102.5C302.2 105.4 301.3 108.3 300.4 111.2C299.6 114.1 298.6 116.7 297.8 119.8C297.1 123.0 296.6 126.8 296.1 130.2C295.6 133.7 295.0 137.9 294.9 140.6C294.8 143.3 294.2 145.2 295.4 146.3C296.6 147.5 299.3 147.4 302.2 147.5C305.0 147.7 309.7 147.6 312.6 147.2C315.4 146.8 318.0 146.0 319.5 144.9C320.9 143.8 321.1 142.2 321.2 140.6C321.4 139.0 320.9 137.4 320.4 135.4C319.8 133.4 318.6 131.1 318.1 128.5C317.6 125.9 317.5 122.7 317.4 119.8C317.3 116.9 317.6 114.1 317.8 111.2C318.0 108.3 318.5 105.4 318.6 102.5C318.8 99.6 318.8 96.7 318.6 93.9C318.4 91.0 318.3 87.4 317.4 85.2C316.5 83.0 314.8 80.5 313.4 80.5Z" fill="#ffc814" stroke="#141414" stroke-opacity="0.7" stroke-width="0.4"/>
<path d="M303.6 119.5C303.2 119.3 302.9 121.8 302.5 123.3C302.1 124.8 301.9 126.5 301.3 128.5C300.7 130.5 299.4 133.1 298.7 135.4C298.0 137.7 297.2 140.5 297.0 142.3C296.7 144.2 296.2 145.7 297.3 146.5C298.5 147.3 301.9 147.6 303.9 147.4C305.9 147.1 308.1 146.4 309.1 145.1C310.1 143.8 310.1 141.6 310.0 139.7C309.8 137.8 309.0 135.6 308.2 133.7C307.5 131.8 306.2 130.1 305.6 128.5C305.1 126.9 305.1 125.7 304.8 124.2C304.4 122.7 303.9 119.6 303.6 119.5Z" fill="#ffa00a" stroke="#141414" stroke-opacity="0.7" stroke-width="0.4"/>
</g>
<rect x="280.70" y="6.10" width="143.60" height="144.10" fill="none" stroke="#111" stroke-width="1.1"/>
<line x1="276.70" y1="6.10" x2="280.70" y2="6.10" stroke="#000" stroke-width="0.9"/>
<text x="269.80" y="9.20" font-size="8.6" text-anchor="end">100</text>
<line x1="276.70" y1="31.47" x2="280.70" y2="31.47" stroke="#000" stroke-width="0.9"/>
<text x="269.80" y="34.57" font-size="8.6" text-anchor="end">150</text>
<line x1="276.70" y1="49.48" x2="280.70" y2="49.48" stroke="#000" stroke-width="0.9"/>
<text x="269.80" y="52.58" font-size="8.6" text-anchor="end">200</text>
<line x1="276.70" y1="63.44" x2="280.70" y2="63.44" stroke="#000" stroke-width="0.9"/>
<text x="269.80" y="66.54" font-size="8.6" text-anchor="end">250</text>
<line x1="276.70" y1="74.85" x2="280.70" y2="74.85" stroke="#000" stroke-width="0.9"/>
<text x="269.80" y="77.95" font-size="8.6" text-anchor="end">300</text>
<line x1="276.70" y1="92.86" x2="280.70" y2="92.86" stroke="#000" stroke-width="0.9"/>
<text x="269.80" y="95.96" font-size="8.6" text-anchor="end">400</text>
<line x1="276.70" y1="106.82" x2="280.70" y2="106.82" stroke="#000" stroke-width="0.9"/>
<text x="269.80" y="109.92" font-size="8.6" text-anchor="end">500</text>
<line x1="276.70" y1="127.88" x2="280.70" y2="127.88" stroke="#000" stroke-width="0.9"/>
<text x="269.80" y="130.98" font-size="8.6" text-anchor="end">700</text>
<line x1="276.70" y1="140.03" x2="280.70" y2="140.03" stroke="#000" stroke-width="0.9"/>
<text x="269.80" y="143.13" font-size="8.6" text-anchor="end">850</text>
<line x1="276.70" y1="150.20" x2="280.70" y2="150.20" stroke="#000" stroke-width="0.9"/>
<text x="269.80" y="153.30" font-size="8.6" text-anchor="end">1000</text>
<line x1="424.30" y1="135.84" x2="428.50" y2="135.84" stroke="#000" stroke-width="0.9"/>
<text x="434.40" y="139.14" font-size="8.6" text-anchor="start">2</text>
<line x1="424.30" y1="119.92" x2="428.50" y2="119.92" stroke="#000" stroke-width="0.9"/>
<text x="434.40" y="123.22" font-size="8.6" text-anchor="start">4</text>
<line x1="424.30" y1="103.19" x2="428.50" y2="103.19" stroke="#000" stroke-width="0.9"/>
<text x="434.40" y="106.49" font-size="8.6" text-anchor="start">6</text>
<line x1="424.30" y1="85.56" x2="428.50" y2="85.56" stroke="#000" stroke-width="0.9"/>
<text x="434.40" y="88.86" font-size="8.6" text-anchor="start">8</text>
<line x1="424.30" y1="66.94" x2="428.50" y2="66.94" stroke="#000" stroke-width="0.9"/>
<text x="434.40" y="70.24" font-size="8.6" text-anchor="start">10</text>
<line x1="424.30" y1="47.35" x2="428.50" y2="47.35" stroke="#000" stroke-width="0.9"/>
<text x="434.40" y="50.65" font-size="8.6" text-anchor="start">12</text>
<line x1="424.30" y1="27.61" x2="428.50" y2="27.61" stroke="#000" stroke-width="0.9"/>
<text x="434.40" y="30.91" font-size="8.6" text-anchor="start">14</text>
<line x1="424.30" y1="7.87" x2="428.50" y2="7.87" stroke="#000" stroke-width="0.9"/>
<text x="434.40" y="11.17" font-size="8.6" text-anchor="start">16</text>
<line x1="280.70" y1="150.20" x2="280.70" y2="154.50" stroke="#000" stroke-width="0.9"/>
<text x="280.70" y="167.00" font-size="8.6" text-anchor="middle">0</text>
<line x1="309.75" y1="150.20" x2="309.75" y2="154.50" stroke="#000" stroke-width="0.9"/>
<text x="309.75" y="167.00" font-size="8.6" text-anchor="middle">20</text>
<line x1="338.80" y1="150.20" x2="338.80" y2="154.50" stroke="#000" stroke-width="0.9"/>
<text x="338.80" y="167.00" font-size="8.6" text-anchor="middle">40</text>
<line x1="367.85" y1="150.20" x2="367.85" y2="154.50" stroke="#000" stroke-width="0.9"/>
<text x="367.85" y="167.00" font-size="8.6" text-anchor="middle">60</text>
<line x1="396.90" y1="150.20" x2="396.90" y2="154.50" stroke="#000" stroke-width="0.9"/>
<text x="396.90" y="167.00" font-size="8.6" text-anchor="middle">80</text>
<text transform="translate(241.20 78.15) rotate(-90)" font-size="11.4" text-anchor="middle">Pressure (mb)</text>
<text transform="translate(457.40 78.15) rotate(-90)" font-size="11.4" text-anchor="middle">Height (km)</text>
<text x="412.40" y="19.70" font-size="9" text-anchor="middle">(d)</text>
<clipPath id="c5"><rect x="280.70" y="180.80" width="143.60" height="144.10"/></clipPath>
<g clip-path="url(#c5)">
<rect x="280.70" y="180.80" width="143.60" height="144.10" fill="#f8f8ff"/>
<path d="M461.0 324.7C432.7 324.7 320.5 324.7 291.0 324.7C261.5 324.7 285.3 324.6 283.9 324.5C282.5 324.4 282.8 324.4 282.5 324.2C282.2 324.0 282.1 323.9 282.0 323.3C281.9 322.6 281.8 330.8 281.8 320.3C281.8 309.7 281.8 278.4 281.8 260.0C281.8 241.6 281.6 220.3 281.7 209.6C281.8 198.9 282.0 199.5 282.4 195.8C282.9 192.0 283.7 189.4 284.5 187.1C285.3 184.9 286.4 183.5 287.1 182.3C287.8 181.1 288.3 182.2 288.7 179.8C289.0 177.5 289.0 170.0 289.0 168.1L313.5 170.0C314.0 171.8 315.2 178.0 316.3 180.8C317.4 183.6 318.8 184.6 320.2 186.7C321.6 188.8 323.2 190.8 324.8 193.2C326.4 195.6 328.3 198.4 330.0 201.0C331.7 203.6 333.5 206.2 335.2 208.8C336.9 211.4 338.7 214.1 340.4 216.6C342.1 219.1 343.9 222.1 345.5 223.7C347.1 225.3 347.9 225.1 350.0 226.3C352.0 227.4 355.0 229.4 357.8 230.6C360.5 231.7 363.2 232.5 366.4 233.2C369.6 233.9 373.6 234.4 376.8 234.9C380.0 235.4 383.1 235.8 385.5 236.1C387.8 236.5 389.2 236.8 391.0 237.2C392.8 237.5 393.5 238.1 396.0 238.2C398.6 238.3 403.2 237.8 406.4 237.7C409.6 237.5 412.8 237.2 415.1 237.3C417.4 237.5 418.7 238.1 420.3 238.7C421.8 239.3 421.0 239.3 424.4 240.8C427.9 242.3 438.3 246.6 441.0 247.7Z" fill="#aaaaf2" stroke="#141414" stroke-opacity="0.7" stroke-width="0.4"/>
<path d="M461.0 324.5C432.7 324.5 320.3 324.6 291.0 324.5C261.7 324.4 286.6 324.3 285.4 324.2C284.2 324.1 284.0 324.1 283.6 323.8C283.2 323.6 283.1 323.4 282.9 322.6C282.8 321.8 282.7 330.0 282.7 318.8C282.7 307.5 282.7 270.3 282.7 255.0C282.7 239.7 282.6 234.5 282.8 226.9C282.9 219.4 283.2 214.5 283.5 209.6C283.8 204.7 283.9 201.0 284.5 197.5C285.1 194.0 286.0 191.2 286.9 188.9C287.9 186.5 289.2 185.2 290.0 183.7C290.9 182.2 291.7 182.4 292.1 179.8C292.5 177.3 292.4 170.0 292.5 168.1L304.0 170.0C304.5 171.8 305.9 178.5 307.2 180.8C308.5 183.2 310.4 182.9 311.8 184.1C313.2 185.3 314.3 186.3 315.7 188.0C317.1 189.7 318.7 192.2 320.2 194.5C321.7 196.8 323.2 199.2 324.8 201.6C326.4 204.0 328.3 206.4 330.0 208.8C331.7 211.2 333.5 213.5 335.2 215.9C336.9 218.3 338.8 221.1 340.4 223.1C342.0 225.1 342.9 226.7 344.9 228.2C346.9 229.7 349.8 231.1 352.6 232.3C355.3 233.6 358.3 234.8 361.2 235.8C364.1 236.8 367.0 237.7 369.9 238.4C372.8 239.1 375.6 239.7 378.5 240.1C381.4 240.5 385.1 240.7 387.2 241.0C389.3 241.3 389.5 241.3 391.0 241.8C392.5 242.3 394.0 243.5 396.0 243.9C398.0 244.4 400.6 244.3 402.9 244.6C405.3 245.0 407.6 245.2 409.9 246.0C412.2 246.8 414.8 248.3 416.8 249.5C418.8 250.6 420.7 252.1 422.0 252.9C423.3 253.7 421.2 252.3 424.4 254.3C427.6 256.3 438.3 263.3 441.0 265.0Z" fill="#3c3cf0" stroke="#141414" stroke-opacity="0.7" stroke-width="0.4"/>
<path d="M461.0 322.6C454.5 332.3 412.8 322.4 402.0 322.7C391.2 323.0 399.7 323.9 396.0 324.2C392.3 324.5 397.5 324.3 380.0 324.3C362.5 324.3 306.5 324.3 291.0 324.2C275.5 324.1 287.9 324.0 286.9 323.9C285.8 323.7 285.2 323.8 284.7 323.4C284.2 323.1 284.1 323.0 283.9 321.9C283.7 320.9 283.6 329.3 283.6 317.3C283.6 305.3 283.6 265.1 283.6 250.0C283.6 234.9 283.7 233.7 283.8 226.9C284.0 220.2 284.2 214.5 284.5 209.6C284.8 204.7 285.1 200.8 285.7 197.5C286.3 194.2 287.0 192.0 288.0 189.7C289.0 187.4 290.3 185.0 291.8 183.7C293.3 182.3 295.2 181.7 297.0 181.6C298.7 181.4 300.6 181.9 302.2 182.8C303.8 183.7 304.9 185.5 306.5 187.1C308.1 188.7 310.1 190.4 311.7 192.3C313.3 194.2 314.6 196.4 316.0 198.4C317.5 200.4 318.9 202.3 320.4 204.4C321.8 206.6 323.1 209.2 324.7 211.4C326.3 213.5 328.4 215.8 329.9 217.4C331.3 219.0 332.0 219.4 333.5 221.1C335.0 222.7 336.8 225.1 338.7 227.1C340.6 229.1 342.6 231.5 344.8 233.2C346.9 234.9 349.2 236.2 351.7 237.5C354.1 238.8 356.7 240.1 359.5 241.0C362.2 241.8 365.3 242.1 368.1 242.7C371.0 243.3 373.9 243.7 376.8 244.4C379.7 245.2 383.1 246.3 385.5 247.0C387.8 247.8 389.2 247.9 391.0 248.8C392.8 249.6 394.5 251.0 396.0 252.1C397.6 253.1 398.6 254.1 400.4 255.0C402.1 255.9 404.2 256.7 406.4 257.6C408.6 258.5 411.0 259.4 413.3 260.2C415.6 261.0 418.4 261.8 420.3 262.3C422.1 262.8 421.0 262.9 424.4 263.3C427.9 263.7 434.9 254.6 441.0 264.5C447.1 274.4 467.5 312.9 461.0 322.6Z" fill="#14aa14" stroke="#141414" stroke-opacity="0.7" stroke-width="0.4"/>
<path d="M461.0 321.8C452.7 324.3 412.7 321.9 391.0 322.0C369.3 322.1 347.3 322.4 331.0 322.6C314.7 322.9 300.1 323.3 293.0 323.5C285.9 323.7 289.6 323.6 288.4 323.6C287.2 323.5 286.4 323.4 285.8 323.0C285.2 322.7 285.0 322.5 284.8 321.3C284.6 320.1 284.6 327.6 284.5 315.8C284.4 303.9 284.4 263.6 284.5 250.0C284.6 236.4 284.7 239.4 284.9 233.9C285.0 228.3 285.3 221.6 285.5 216.6C285.8 211.5 286.1 207.2 286.6 203.6C287.1 200.0 287.7 197.4 288.7 194.9C289.6 192.5 290.7 190.2 292.1 188.9C293.5 187.5 295.4 186.8 297.0 186.8C298.6 186.7 300.4 187.4 301.8 188.5C303.3 189.6 304.3 191.5 305.6 193.2C307.0 194.8 308.6 196.5 310.0 198.4C311.3 200.3 312.6 202.4 313.9 204.4C315.2 206.5 316.4 208.5 317.8 210.5C319.1 212.5 320.6 214.7 322.1 216.6C323.6 218.5 325.0 219.9 326.6 221.9C328.2 224.0 330.0 226.5 331.8 228.9C333.5 231.2 335.2 233.6 337.0 235.8C338.7 237.9 340.1 240.1 342.2 241.8C344.2 243.6 346.5 245.0 349.1 246.2C351.7 247.3 354.9 247.9 357.8 248.8C360.6 249.6 363.5 250.5 366.4 251.4C369.3 252.2 372.5 252.8 375.1 254.0C377.7 255.1 380.0 256.8 382.0 258.3C384.0 259.7 385.7 261.5 387.2 262.6C388.7 263.8 390.1 264.5 391.0 265.2C391.9 266.0 391.1 265.9 392.6 267.1C394.0 268.3 397.5 270.6 399.5 272.3C401.5 274.0 403.5 275.6 404.7 277.5C405.8 279.4 406.3 281.6 406.4 283.6C406.6 285.6 405.3 287.5 405.5 289.6C405.8 291.8 406.8 294.5 408.1 296.6C409.4 298.6 411.6 300.5 413.3 301.8C415.1 303.1 416.7 303.6 418.5 304.4C420.4 305.1 420.7 305.6 424.4 306.1C428.2 306.5 434.9 304.3 441.0 306.9C447.1 309.6 469.3 319.3 461.0 321.8Z" fill="#38ba14" stroke="#141414" stroke-opacity="0.7" stroke-width="0.4"/>
<path d="M286.9 322.6C284.5 322.2 286.0 322.0 285.8 320.6C285.5 319.2 285.5 326.0 285.4 314.2C285.3 302.5 285.3 262.8 285.4 250.0C285.5 237.2 285.5 242.3 285.7 237.3C285.9 232.3 286.2 224.9 286.6 220.0C286.9 215.1 287.3 211.4 287.8 207.9C288.3 204.4 288.9 201.6 289.7 199.2C290.5 196.9 291.4 195.3 292.6 194.0C293.9 192.8 295.5 191.9 297.0 191.8C298.4 191.7 300.0 192.6 301.3 193.7C302.6 194.8 303.7 196.6 304.8 198.4C305.9 200.2 306.8 202.4 307.9 204.4C309.0 206.5 310.0 208.5 311.2 210.5C312.4 212.5 313.7 214.7 315.2 216.6C316.6 218.5 318.0 219.7 319.7 221.9C321.3 224.1 323.3 227.1 324.9 229.7C326.4 232.3 327.6 235.1 329.2 237.5C330.8 240.0 332.6 242.4 334.4 244.4C336.1 246.5 337.7 248.0 339.6 249.6C341.4 251.2 343.7 253.0 345.6 254.0C347.5 254.9 349.4 254.8 351.0 255.5C352.6 256.2 353.8 257.1 355.5 258.2C357.2 259.3 359.2 260.3 361.0 262.1C362.8 263.9 364.9 266.6 366.6 268.9C368.2 271.1 369.5 273.5 370.9 275.8C372.4 278.1 373.8 280.4 375.2 282.7C376.7 285.0 378.3 287.3 379.6 289.6C380.9 291.9 381.9 294.2 383.0 296.6C384.2 298.9 385.1 301.3 386.5 303.5C387.9 305.6 390.4 307.8 391.7 309.5C393.0 311.3 394.3 312.6 394.3 313.9C394.3 315.2 393.4 316.3 391.7 317.3C390.0 318.3 386.9 319.2 383.9 319.9C380.9 320.7 377.3 321.2 373.5 321.7C369.8 322.1 367.0 322.5 361.4 322.7C355.8 323.0 350.2 323.1 340.0 323.2C329.8 323.3 308.9 323.5 300.0 323.4C291.1 323.3 289.3 323.1 286.9 322.6Z" fill="#96dc0a" stroke="#141414" stroke-opacity="0.7" stroke-width="0.4"/>
<path d="M288.0 322.3C285.8 321.8 287.0 321.6 286.7 320.0C286.4 318.4 286.4 324.4 286.3 312.7C286.2 301.1 286.3 262.0 286.3 250.0C286.3 238.0 286.4 244.6 286.6 240.8C286.8 237.0 287.1 231.3 287.5 226.9C287.8 222.6 288.2 218.4 288.7 214.8C289.2 211.2 289.7 207.8 290.4 205.3C291.1 202.8 291.6 201.5 292.6 200.1C293.7 198.8 295.3 197.3 296.6 197.2C297.9 197.1 299.3 198.2 300.4 199.6C301.6 200.9 302.6 203.3 303.6 205.3C304.5 207.3 304.7 209.2 306.0 211.4C307.2 213.6 309.4 216.1 311.0 218.5C312.6 220.8 313.9 222.9 315.3 225.4C316.8 227.8 318.2 230.6 319.7 233.2C321.1 235.8 322.5 238.4 324.0 241.0C325.4 243.6 326.7 246.4 328.3 248.8C329.9 251.1 331.8 253.1 333.5 255.0C335.2 256.9 337.0 258.5 338.7 260.2C340.4 261.9 342.3 263.4 343.9 265.4C345.5 267.3 347.0 269.7 348.4 271.9C349.8 274.1 351.1 276.2 352.3 278.4C353.5 280.6 354.3 282.9 355.5 284.9C356.7 286.8 358.6 287.6 359.4 290.1C360.2 292.6 360.0 297.4 360.5 300.0C361.0 302.7 361.2 304.5 362.3 306.1C363.3 307.7 365.0 308.4 366.6 309.5C368.2 310.7 370.8 311.9 371.8 313.0C372.8 314.2 373.2 315.5 372.6 316.5C372.1 317.5 370.2 318.5 368.3 319.1C366.4 319.7 365.3 319.7 361.4 320.1C357.5 320.5 351.9 321.1 345.0 321.5C338.1 321.9 327.5 322.2 320.0 322.5C312.5 322.8 305.3 323.0 300.0 323.0C294.7 323.0 290.2 322.8 288.0 322.3Z" fill="#d2eb00" stroke="#141414" stroke-opacity="0.7" stroke-width="0.4"/>
<path d="M289.1 321.9C287.0 321.3 288.0 321.1 287.7 319.3C287.4 317.5 287.3 321.9 287.2 311.2C287.1 300.5 287.2 265.6 287.2 255.0C287.2 244.4 287.3 251.0 287.5 247.7C287.6 244.5 288.0 239.6 288.3 235.6C288.7 231.6 289.1 227.1 289.5 223.5C290.0 219.9 290.3 216.7 290.9 214.0C291.5 211.2 292.2 208.8 293.2 207.0C294.1 205.3 295.6 203.6 296.6 203.6C297.7 203.6 298.6 205.4 299.6 207.0C300.5 208.6 301.4 210.9 302.2 213.1C303.0 215.3 303.6 217.9 304.4 220.0C305.3 222.2 306.4 224.2 307.4 226.1C308.4 228.0 309.3 229.4 310.5 231.3C311.7 233.2 313.2 235.3 314.5 237.5C315.7 239.7 316.8 242.0 317.9 244.4C319.1 246.9 320.2 250.5 321.4 252.2C322.6 254.0 324.0 253.5 325.0 255.0C326.0 256.5 326.7 259.1 327.6 261.5C328.5 263.9 329.1 266.9 330.2 269.3C331.3 271.7 332.6 274.0 334.1 275.8C335.6 277.6 337.9 278.6 339.3 280.3C340.7 282.0 341.7 283.9 342.6 286.2C343.5 288.5 344.1 291.4 344.5 294.0C344.9 296.6 345.2 299.2 345.2 301.8C345.2 304.4 344.7 307.3 344.5 309.5C344.3 311.7 344.5 313.4 343.9 315.0C343.3 316.6 342.5 317.9 341.0 319.0C339.5 320.1 338.5 320.8 335.0 321.3C331.5 321.9 325.8 322.1 320.0 322.3C314.2 322.6 305.1 322.9 300.0 322.8C294.9 322.7 291.2 322.5 289.1 321.9Z" fill="#fcfc00" stroke="#141414" stroke-opacity="0.7" stroke-width="0.4"/>
<path d="M290.1 321.5C288.7 321.0 288.9 320.7 288.6 318.8C288.3 317.0 288.2 319.8 288.1 310.3C288.0 300.9 287.9 272.4 288.1 262.0C288.3 251.6 288.7 251.8 289.0 247.7C289.3 243.6 289.6 240.8 290.0 237.3C290.5 233.9 290.9 230.0 291.4 226.9C292.0 223.9 292.4 221.3 293.2 219.2C293.9 217.0 295.2 214.1 296.1 214.0C297.0 213.8 297.9 216.4 298.7 218.3C299.5 220.2 300.1 223.1 300.8 225.2C301.5 227.4 302.2 229.4 303.0 231.3C303.8 233.2 304.6 234.7 305.6 236.5C306.6 238.2 308.2 240.1 309.1 241.7C310.0 243.3 310.2 244.4 311.0 246.2C311.8 247.9 312.7 250.8 313.6 252.2C314.5 253.7 315.6 253.5 316.6 255.0C317.6 256.5 318.7 259.1 319.8 261.5C320.9 263.9 322.0 266.7 323.1 269.3C324.2 271.9 325.3 274.5 326.3 277.1C327.3 279.7 328.1 282.3 328.9 284.9C329.7 287.5 330.3 290.1 330.9 292.7C331.4 295.3 332.0 297.9 332.2 300.5C332.4 303.1 332.1 305.9 332.2 308.2C332.3 310.4 332.8 312.4 332.6 314.0C332.4 315.6 331.5 316.8 330.7 317.7C330.0 318.6 329.7 318.8 328.1 319.4C326.6 320.0 326.4 320.9 321.2 321.3C316.0 321.8 302.2 322.2 297.0 322.2C291.8 322.2 291.5 322.1 290.1 321.5Z" fill="#ffc814" stroke="#141414" stroke-opacity="0.7" stroke-width="0.4"/>
<path d="M291.0 321.2C289.8 320.6 289.8 320.4 289.5 318.5C289.2 316.6 289.1 318.1 289.0 310.0C288.9 301.9 288.8 279.2 289.0 270.0C289.2 260.8 290.0 259.0 290.4 255.0C290.8 251.0 291.1 248.5 291.4 246.0C291.8 243.5 292.0 241.8 292.6 239.9C293.3 238.1 294.4 234.9 295.2 234.7C296.1 234.6 297.0 237.5 297.8 239.1C298.6 240.7 299.2 242.5 300.1 244.3C301.0 246.0 302.2 247.7 303.0 249.5C303.8 251.2 303.9 253.0 304.9 255.0C305.9 257.0 307.6 259.3 308.8 261.5C310.0 263.7 311.1 265.8 312.0 268.0C312.9 270.2 313.4 272.1 314.0 274.5C314.6 276.9 315.1 279.7 315.9 282.3C316.6 284.9 317.7 287.5 318.5 290.1C319.3 292.7 319.9 295.1 320.5 297.9C321.1 300.7 321.4 304.5 321.8 306.9C322.2 309.2 322.4 310.4 322.6 312.0C322.8 313.6 323.8 315.1 322.9 316.5C322.1 317.8 319.8 319.0 317.8 319.9C315.7 320.8 314.3 321.5 310.8 321.8C307.4 322.2 300.3 322.1 297.0 322.0C293.7 321.9 292.2 321.8 291.0 321.2Z" fill="#ffa00a" stroke="#141414" stroke-opacity="0.7" stroke-width="0.4"/>
<path d="M295.8 257.6C294.8 258.0 293.9 260.3 293.2 262.8C292.4 265.2 291.9 268.4 291.4 272.3C291.0 276.2 290.7 281.6 290.4 286.2C290.1 290.8 289.8 295.4 289.5 300.0C289.3 304.6 288.8 310.6 288.8 313.9C288.9 317.2 288.9 318.6 289.7 319.9C290.5 321.2 291.7 321.4 293.5 321.7C295.3 322.0 298.1 322.0 300.4 321.7C302.7 321.4 305.3 320.8 307.4 319.9C309.4 319.1 311.4 317.5 312.6 316.5C313.7 315.5 314.2 315.2 314.3 314.0C314.4 312.8 313.7 311.2 313.0 309.0C312.3 306.8 310.9 303.4 310.1 300.5C309.3 297.6 308.8 294.6 308.1 291.4C307.5 288.1 306.9 284.2 306.2 281.0C305.4 277.8 304.5 274.7 303.6 271.9C302.7 269.1 301.8 266.1 301.0 264.1C300.2 262.1 299.6 261.3 298.7 260.2C297.8 259.1 296.7 257.2 295.8 257.6Z" fill="#ff7205" stroke="#141414" stroke-opacity="0.7" stroke-width="0.4"/>
<path d="M295.6 299.2C294.7 299.3 293.8 302.5 293.2 304.4C292.5 306.2 292.2 308.4 291.8 310.4C291.4 312.4 290.8 314.9 290.9 316.5C291.1 318.1 291.9 319.3 292.6 319.9C293.4 320.6 294.2 320.7 295.2 320.5C296.3 320.3 297.7 319.7 298.7 318.7C299.7 317.8 301.0 316.3 301.3 314.7C301.6 313.2 300.9 311.4 300.4 309.5C299.9 307.7 299.2 305.2 298.4 303.5C297.6 301.8 296.5 299.0 295.6 299.2Z" fill="#ff3e12" stroke="#141414" stroke-opacity="0.7" stroke-width="0.4"/>
</g>
<rect x="280.70" y="180.80" width="143.60" height="144.10" fill="none" stroke="#111" stroke-width="1.1"/>
<line x1="276.70" y1="180.80" x2="280.70" y2="180.80" stroke="#000" stroke-width="0.9"/>
<text x="269.80" y="183.90" font-size="8.6" text-anchor="end">100</text>
<line x1="276.70" y1="206.17" x2="280.70" y2="206.17" stroke="#000" stroke-width="0.9"/>
<text x="269.80" y="209.27" font-size="8.6" text-anchor="end">150</text>
<line x1="276.70" y1="224.18" x2="280.70" y2="224.18" stroke="#000" stroke-width="0.9"/>
<text x="269.80" y="227.28" font-size="8.6" text-anchor="end">200</text>
<line x1="276.70" y1="238.14" x2="280.70" y2="238.14" stroke="#000" stroke-width="0.9"/>
<text x="269.80" y="241.24" font-size="8.6" text-anchor="end">250</text>
<line x1="276.70" y1="249.55" x2="280.70" y2="249.55" stroke="#000" stroke-width="0.9"/>
<text x="269.80" y="252.65" font-size="8.6" text-anchor="end">300</text>
<line x1="276.70" y1="267.56" x2="280.70" y2="267.56" stroke="#000" stroke-width="0.9"/>
<text x="269.80" y="270.66" font-size="8.6" text-anchor="end">400</text>
<line x1="276.70" y1="281.52" x2="280.70" y2="281.52" stroke="#000" stroke-width="0.9"/>
<text x="269.80" y="284.62" font-size="8.6" text-anchor="end">500</text>
<line x1="276.70" y1="302.58" x2="280.70" y2="302.58" stroke="#000" stroke-width="0.9"/>
<text x="269.80" y="305.68" font-size="8.6" text-anchor="end">700</text>
<line x1="276.70" y1="314.73" x2="280.70" y2="314.73" stroke="#000" stroke-width="0.9"/>
<text x="269.80" y="317.83" font-size="8.6" text-anchor="end">850</text>
<line x1="276.70" y1="324.90" x2="280.70" y2="324.90" stroke="#000" stroke-width="0.9"/>
<text x="269.80" y="328.00" font-size="8.6" text-anchor="end">1000</text>
<line x1="424.30" y1="310.54" x2="428.50" y2="310.54" stroke="#000" stroke-width="0.9"/>
<text x="434.40" y="313.84" font-size="8.6" text-anchor="start">2</text>
<line x1="424.30" y1="294.62" x2="428.50" y2="294.62" stroke="#000" stroke-width="0.9"/>
<text x="434.40" y="297.92" font-size="8.6" text-anchor="start">4</text>
<line x1="424.30" y1="277.89" x2="428.50" y2="277.89" stroke="#000" stroke-width="0.9"/>
<text x="434.40" y="281.19" font-size="8.6" text-anchor="start">6</text>
<line x1="424.30" y1="260.26" x2="428.50" y2="260.26" stroke="#000" stroke-width="0.9"/>
<text x="434.40" y="263.56" font-size="8.6" text-anchor="start">8</text>
<line x1="424.30" y1="241.64" x2="428.50" y2="241.64" stroke="#000" stroke-width="0.9"/>
<text x="434.40" y="244.94" font-size="8.6" text-anchor="start">10</text>
<line x1="424.30" y1="222.05" x2="428.50" y2="222.05" stroke="#000" stroke-width="0.9"/>
<text x="434.40" y="225.35" font-size="8.6" text-anchor="start">12</text>
<line x1="424.30" y1="202.31" x2="428.50" y2="202.31" stroke="#000" stroke-width="0.9"/>
<text x="434.40" y="205.61" font-size="8.6" text-anchor="start">14</text>
<line x1="424.30" y1="182.57" x2="428.50" y2="182.57" stroke="#000" stroke-width="0.9"/>
<text x="434.40" y="185.87" font-size="8.6" text-anchor="start">16</text>
<line x1="280.70" y1="324.90" x2="280.70" y2="329.20" stroke="#000" stroke-width="0.9"/>
<text x="280.70" y="341.70" font-size="8.6" text-anchor="middle">0</text>
<line x1="309.75" y1="324.90" x2="309.75" y2="329.20" stroke="#000" stroke-width="0.9"/>
<text x="309.75" y="341.70" font-size="8.6" text-anchor="middle">20</text>
<line x1="338.80" y1="324.90" x2="338.80" y2="329.20" stroke="#000" stroke-width="0.9"/>
<text x="338.80" y="341.70" font-size="8.6" text-anchor="middle">40</text>
<line x1="367.85" y1="324.90" x2="367.85" y2="329.20" stroke="#000" stroke-width="0.9"/>
<text x="367.85" y="341.70" font-size="8.6" text-anchor="middle">60</text>
<line x1="396.90" y1="324.90" x2="396.90" y2="329.20" stroke="#000" stroke-width="0.9"/>
<text x="396.90" y="341.70" font-size="8.6" text-anchor="middle">80</text>
<text transform="translate(241.20 252.85) rotate(-90)" font-size="11.4" text-anchor="middle">Pressure (mb)</text>
<text transform="translate(457.40 252.85) rotate(-90)" font-size="11.4" text-anchor="middle">Height (km)</text>
<text x="412.40" y="194.40" font-size="9" text-anchor="middle">(e)</text>
<clipPath id="c6"><rect x="280.70" y="355.50" width="143.60" height="144.10"/></clipPath>
<g clip-path="url(#c6)">
<rect x="280.70" y="355.50" width="143.60" height="144.10" fill="#f8f8ff"/>
<path d="M461.0 499.5C432.7 499.5 320.5 499.5 291.0 499.5C261.5 499.5 285.3 499.4 283.9 499.3C282.5 499.2 282.8 499.2 282.5 499.0C282.2 498.8 282.1 498.7 282.0 498.1C281.9 497.4 281.8 504.8 281.8 495.1C281.8 485.4 281.8 455.5 281.8 440.0C281.8 424.5 281.6 411.2 281.7 401.9C281.8 392.7 282.1 390.4 282.4 384.6C282.7 378.9 283.2 372.1 283.5 367.3C283.8 362.5 284.2 359.8 284.3 355.7C284.5 351.7 284.5 345.2 284.5 343.1L322.0 345.0C322.1 346.9 322.2 353.1 322.8 356.2C323.4 359.3 324.4 360.7 325.4 363.4C326.4 366.1 327.5 369.6 328.7 372.5C329.9 375.4 331.3 378.3 332.6 380.9C333.9 383.5 335.1 385.8 336.5 388.1C337.9 390.4 339.5 392.7 341.0 394.6C342.5 396.6 344.1 398.4 345.5 399.8C346.9 401.2 348.5 402.2 349.4 403.0C350.3 403.8 349.7 403.6 351.0 404.3C352.3 405.0 354.7 406.4 357.0 407.1C359.3 407.9 362.2 408.5 364.8 408.8C367.4 409.2 370.0 409.0 372.6 409.1C375.2 409.2 378.0 409.1 380.4 409.4C382.7 409.6 385.1 410.0 386.8 410.4C388.6 410.8 388.3 411.5 391.0 411.7C393.7 411.9 399.5 411.4 402.9 411.5C406.4 411.5 409.0 411.7 411.6 412.0C414.2 412.3 416.4 412.4 418.5 413.2C420.7 414.0 420.7 414.5 424.4 416.7C428.2 418.8 438.3 424.6 441.0 426.2Z" fill="#aaaaf2" stroke="#141414" stroke-opacity="0.7" stroke-width="0.4"/>
<path d="M461.0 499.3C432.7 499.3 320.3 499.4 291.0 499.3C261.7 499.2 286.6 499.1 285.4 499.0C284.2 498.9 284.0 498.9 283.6 498.6C283.2 498.4 283.1 498.2 282.9 497.4C282.8 496.6 282.7 504.0 282.7 493.6C282.7 483.2 282.7 450.3 282.7 435.0C282.7 419.7 282.3 410.3 282.4 401.9C282.6 393.6 283.1 390.4 283.5 384.6C283.9 378.9 284.5 372.1 284.9 367.3C285.2 362.5 285.4 359.8 285.5 355.7C285.7 351.7 285.7 345.2 285.7 343.1L303.0 345.0C303.6 346.9 304.8 354.1 306.6 356.2C308.4 358.3 312.0 356.5 313.7 357.5C315.4 358.5 315.9 360.0 317.0 362.1C318.1 364.2 319.0 367.2 320.2 369.9C321.4 372.6 322.7 375.6 324.1 378.3C325.5 381.0 327.1 383.6 328.7 386.1C330.3 388.6 332.2 391.0 333.9 393.3C335.6 395.6 337.6 398.0 339.1 399.8C340.6 401.6 341.6 403.0 342.9 404.3C344.2 405.6 345.4 406.5 346.8 407.5C348.2 408.5 349.3 409.5 351.0 410.1C352.7 410.7 354.9 410.7 357.0 411.0C359.1 411.4 361.3 412.2 363.5 412.3C365.6 412.5 367.8 411.9 370.0 411.9C372.1 411.9 374.3 411.9 376.5 412.3C378.6 412.7 381.0 413.4 382.9 414.3C384.9 415.2 386.8 416.6 388.1 417.5C389.5 418.5 388.8 419.6 391.0 420.1C393.2 420.6 398.4 420.4 401.2 420.6C404.1 420.9 405.8 420.7 408.1 421.3C410.5 422.0 413.0 423.5 415.1 424.5C417.1 425.4 418.7 426.3 420.3 427.1C421.8 427.8 421.0 427.2 424.4 428.8C427.9 430.4 438.3 435.3 441.0 436.6Z" fill="#3c3cf0" stroke="#141414" stroke-opacity="0.7" stroke-width="0.4"/>
<path d="M461.0 497.5C451.7 497.5 415.2 497.4 405.0 497.6C394.8 497.9 404.2 498.8 400.0 499.0C395.8 499.2 398.2 499.1 380.0 499.1C361.8 499.1 306.5 499.1 291.0 499.0C275.5 498.9 287.9 498.8 286.9 498.7C285.8 498.5 285.2 498.6 284.7 498.2C284.2 497.9 284.1 497.8 283.9 496.7C283.7 495.7 283.6 503.2 283.6 492.1C283.6 480.9 283.7 443.6 283.6 430.0C283.5 416.4 283.1 416.7 283.1 410.6C283.2 404.5 283.6 399.1 284.0 393.3C284.3 387.5 284.7 380.9 285.2 376.0C285.7 371.1 286.4 367.2 286.9 363.9C287.4 360.5 287.9 359.2 288.1 355.7C288.4 352.3 288.3 345.2 288.3 343.1L300.4 343.1C300.4 345.2 300.0 353.0 300.4 355.7C300.9 358.5 301.7 358.2 303.0 359.5C304.3 360.9 306.6 362.3 308.2 363.9C309.8 365.4 311.5 367.0 312.6 369.0C313.6 371.1 313.4 373.7 314.3 376.0C315.2 378.3 316.3 380.7 317.8 382.9C319.2 385.1 321.2 386.9 322.9 389.0C324.7 391.0 326.4 393.0 328.1 395.0C329.9 397.0 331.8 399.4 333.3 401.1C334.9 402.8 335.9 403.6 337.5 405.2C339.1 406.7 341.0 408.9 342.7 410.4C344.4 411.9 345.9 413.2 347.9 414.3C349.8 415.4 352.2 416.2 354.4 416.9C356.5 417.5 358.5 417.9 360.9 418.2C363.3 418.5 366.3 418.4 368.7 418.8C371.0 419.3 373.2 419.9 375.2 420.8C377.1 421.6 378.6 423.1 380.4 424.0C382.1 425.0 383.8 426.0 385.5 426.6C387.3 427.3 388.4 426.9 391.0 427.9C393.6 428.9 398.4 431.2 401.2 432.6C404.1 434.0 405.8 435.2 408.1 436.1C410.5 436.9 412.4 437.4 415.1 437.8C417.8 438.2 420.1 438.1 424.4 438.3C428.7 438.5 438.3 438.9 441.0 439.0Z" fill="#14aa14" stroke="#141414" stroke-opacity="0.7" stroke-width="0.4"/>
<path d="M461.0 496.8C452.7 503.3 412.7 496.9 391.0 497.0C369.3 497.1 347.3 497.3 331.0 497.5C314.7 497.7 300.1 498.1 293.0 498.2C285.9 498.3 289.6 498.4 288.4 498.4C287.2 498.3 286.4 498.2 285.8 497.8C285.2 497.5 285.0 497.3 284.8 496.1C284.6 494.9 284.6 501.6 284.5 490.6C284.4 479.5 284.6 443.0 284.5 430.0C284.4 417.0 283.8 418.2 283.8 412.3C283.8 406.5 284.2 400.5 284.5 395.0C284.8 389.5 285.2 384.1 285.7 379.4C286.2 374.8 286.8 370.5 287.5 367.3C288.1 364.1 288.7 362.0 289.7 360.4C290.7 358.8 292.3 358.1 293.5 357.8C294.7 357.5 296.0 357.9 297.0 358.7C298.0 359.4 298.4 360.8 299.6 362.1C300.7 363.4 302.5 365.0 303.9 366.5C305.3 367.9 307.1 369.0 308.2 370.8C309.4 372.5 310.0 374.7 310.8 376.8C311.7 379.0 312.6 381.5 313.4 383.8C314.3 386.0 315.0 388.8 316.0 390.5C317.0 392.2 318.3 392.8 319.5 394.0C320.7 395.2 321.8 396.2 323.0 397.5C324.2 398.8 325.7 400.1 327.0 401.5C328.3 402.9 329.7 404.1 331.0 405.8C332.3 407.5 333.4 409.8 334.9 411.7C336.4 413.5 338.4 415.4 340.1 416.9C341.8 418.4 343.3 419.7 345.3 420.8C347.2 421.9 349.6 422.7 351.8 423.4C353.9 424.0 356.1 424.4 358.3 424.7C360.4 425.0 362.6 424.9 364.8 425.3C366.9 425.8 369.4 426.2 371.3 427.3C373.1 428.4 374.3 430.3 375.8 431.8C377.3 433.3 378.7 435.0 380.4 436.4C382.0 437.8 383.8 439.0 385.5 440.3C387.3 441.6 389.3 443.0 391.0 444.2C392.7 445.3 394.0 446.5 396.0 447.3C398.0 448.1 400.6 448.3 402.9 449.0C405.3 449.8 407.6 450.8 409.9 451.6C412.2 452.5 414.4 453.5 416.8 454.2C419.2 455.0 420.4 455.4 424.4 456.0C428.5 456.6 434.9 450.9 441.0 457.7C447.1 464.5 469.3 490.3 461.0 496.8Z" fill="#38ba14" stroke="#141414" stroke-opacity="0.7" stroke-width="0.4"/>
<path d="M286.9 497.4C284.5 497.1 286.0 496.8 285.8 495.4C285.5 494.0 285.5 500.0 285.4 489.1C285.3 478.1 285.4 443.9 285.4 430.0C285.4 416.1 285.1 412.4 285.2 405.4C285.3 398.4 285.9 393.0 286.2 388.1C286.6 383.2 287.0 379.1 287.5 376.0C287.9 372.8 288.3 370.8 289.2 369.0C290.0 367.3 291.3 366.0 292.6 365.6C293.9 365.2 295.7 365.6 297.0 366.5C298.3 367.3 299.3 369.2 300.4 370.8C301.6 372.4 302.9 374.1 303.9 376.0C304.9 377.8 305.6 380.2 306.5 382.0C307.4 383.9 308.2 385.6 309.1 387.2C310.0 388.8 310.8 390.0 311.7 391.6C312.6 393.1 313.1 395.0 314.3 396.8C315.4 398.5 317.2 400.2 318.6 401.9C320.1 403.7 321.4 405.3 322.9 407.1C324.5 409.0 326.8 411.6 328.1 413.2C329.5 414.8 329.7 415.5 331.0 416.9C332.3 418.3 334.5 420.0 336.2 421.4C337.9 422.8 339.7 424.2 341.4 425.3C343.1 426.4 344.6 427.1 346.6 427.9C348.5 428.8 350.9 429.8 353.1 430.5C355.2 431.3 357.8 431.6 359.6 432.5C361.3 433.3 362.5 434.4 363.5 435.7C364.4 437.0 364.7 438.6 365.4 440.3C366.2 441.9 367.1 443.7 368.0 445.5C368.9 447.2 369.6 448.9 370.6 450.6C371.6 452.4 372.9 454.3 373.9 455.8C374.8 457.4 375.4 458.8 376.5 460.0C377.6 461.2 378.9 461.4 380.4 462.9C382.0 464.4 383.8 467.1 385.6 469.0C387.5 470.8 389.8 472.3 391.7 474.2C393.6 476.0 395.4 478.2 396.9 480.2C398.3 482.2 399.6 484.5 400.4 486.3C401.1 488.0 401.6 489.3 401.2 490.6C400.8 491.9 399.8 493.1 397.8 494.1C395.7 495.1 392.6 496.1 389.1 496.7C385.6 497.2 381.0 497.5 377.0 497.5C372.9 497.6 368.3 497.2 364.9 496.8C361.4 496.5 360.3 495.5 356.2 495.5C352.1 495.4 349.4 496.4 340.0 496.8C330.6 497.2 308.9 497.5 300.0 497.6C291.1 497.7 289.3 497.8 286.9 497.4Z" fill="#96dc0a" stroke="#141414" stroke-opacity="0.7" stroke-width="0.4"/>
<path d="M288.0 497.1C285.8 496.7 287.0 496.4 286.7 494.8C286.4 493.2 286.4 497.5 286.3 487.5C286.2 477.6 286.4 447.0 286.3 435.0C286.2 423.0 285.8 421.9 285.9 415.8C286.0 409.7 286.6 403.7 286.9 398.5C287.3 393.3 287.5 388.4 288.0 384.6C288.4 380.9 288.8 378.0 289.7 376.0C290.6 374.0 292.0 372.8 293.2 372.5C294.4 372.2 295.9 373.1 297.0 374.2C298.0 375.4 298.8 377.4 299.6 379.4C300.3 381.5 300.4 384.8 301.3 386.4C302.2 388.0 304.2 388.1 304.8 389.0C305.4 389.8 304.7 390.3 305.0 391.5C305.3 392.7 305.9 394.8 306.5 396.0C307.1 397.2 307.7 398.0 308.5 399.0C309.3 400.0 310.7 400.8 311.5 402.0C312.3 403.2 312.6 404.7 313.2 406.0C313.8 407.3 314.4 408.6 315.0 410.0C315.6 411.4 316.2 413.0 317.0 414.3C317.8 415.6 318.7 416.8 319.5 418.0C320.3 419.2 321.1 420.2 322.0 421.3C322.9 422.4 324.0 423.5 325.0 424.5C326.0 425.5 327.0 426.7 328.0 427.5C329.0 428.3 329.9 428.5 331.0 429.2C332.1 429.9 333.4 431.0 334.9 431.8C336.4 432.7 338.8 433.2 340.1 434.4C341.4 435.6 341.9 437.2 342.7 439.0C343.4 440.7 343.8 443.0 344.6 444.8C345.5 446.6 346.8 448.3 347.9 450.0C349.0 451.7 350.3 453.5 351.1 455.2C352.0 456.9 352.5 457.8 353.1 460.0C353.6 462.2 354.2 465.3 354.5 468.1C354.8 470.9 354.9 473.9 354.8 476.8C354.8 479.6 354.6 483.1 354.1 485.4C353.6 487.7 353.4 489.3 351.9 490.6C350.3 492.0 347.8 492.7 345.0 493.5C342.2 494.3 339.2 495.0 335.0 495.5C330.8 496.0 325.8 496.3 320.0 496.6C314.2 496.9 305.3 497.1 300.0 497.2C294.7 497.3 290.2 497.5 288.0 497.1Z" fill="#d2eb00" stroke="#141414" stroke-opacity="0.7" stroke-width="0.4"/>
<path d="M289.1 496.7C287.6 496.1 288.0 495.9 287.7 494.1C287.4 492.3 287.3 495.0 287.2 486.0C287.1 477.0 287.2 451.7 287.2 440.0C287.2 428.3 286.8 422.1 286.9 415.8C287.0 409.5 287.5 406.3 287.8 401.9C288.1 397.6 288.4 393.1 288.8 389.8C289.3 386.5 289.6 383.8 290.4 382.0C291.2 380.3 292.5 379.6 293.5 379.4C294.5 379.3 295.8 379.7 296.6 381.2C297.5 382.6 298.1 385.5 298.7 388.1C299.3 390.7 299.8 394.2 300.4 396.8C301.1 399.4 301.8 401.5 302.5 403.7C303.2 405.8 303.8 408.3 304.8 409.7C305.7 411.2 307.2 411.2 308.2 412.3C309.2 413.5 310.1 414.9 310.8 416.7C311.5 418.4 311.8 420.9 312.6 422.7C313.3 424.6 313.6 425.8 315.2 427.9C316.7 430.0 320.2 432.8 322.1 435.2C324.0 437.6 325.0 439.8 326.4 442.1C327.9 444.4 329.4 446.7 330.7 449.0C332.0 451.4 333.2 453.7 334.2 456.0C335.2 458.3 336.0 460.6 336.8 462.9C337.6 465.2 338.2 467.5 338.9 469.8C339.5 472.1 340.1 474.4 340.6 476.8C341.1 479.1 341.6 481.7 342.0 483.7C342.4 485.7 343.0 487.3 342.9 488.9C342.7 490.5 342.4 492.0 341.1 493.2C339.8 494.4 337.5 495.2 335.1 495.8C332.6 496.4 332.8 496.8 326.4 497.0C320.1 497.3 303.2 497.4 297.0 497.4C290.8 497.3 290.6 497.2 289.1 496.7Z" fill="#fcfc00" stroke="#141414" stroke-opacity="0.7" stroke-width="0.4"/>
<path d="M290.1 496.3C288.7 495.7 288.9 495.5 288.6 493.6C288.3 491.8 288.2 493.2 288.1 485.1C288.0 477.0 288.2 454.2 288.1 445.0C288.0 435.8 287.6 434.3 287.6 430.0C287.7 425.7 288.0 423.4 288.3 419.3C288.6 415.2 289.1 409.0 289.5 405.4C290.0 401.8 290.1 399.5 290.9 397.6C291.7 395.7 293.4 394.2 294.4 394.2C295.4 394.2 296.3 395.7 297.0 397.6C297.6 399.5 297.9 402.7 298.4 405.4C298.8 408.2 299.1 411.5 299.6 414.1C300.1 416.7 300.6 419.0 301.3 421.0C302.0 423.0 303.2 424.7 303.9 426.2C304.6 427.7 304.6 428.5 305.6 430.0C306.6 431.5 308.5 433.5 310.0 435.2C311.4 436.9 313.0 438.4 314.3 440.4C315.5 442.4 316.4 445.0 317.4 447.3C318.4 449.6 319.4 451.9 320.4 454.2C321.3 456.6 322.1 458.9 322.9 461.2C323.8 463.5 324.7 465.8 325.5 468.1C326.4 470.4 327.3 472.7 328.1 475.0C329.0 477.3 330.0 479.9 330.7 481.9C331.5 484.0 332.5 485.4 332.5 487.1C332.5 488.9 332.0 491.0 330.7 492.3C329.4 493.7 327.1 494.7 324.7 495.5C322.2 496.2 320.6 496.6 316.0 496.8C311.4 497.1 301.3 497.3 297.0 497.2C292.7 497.1 291.5 496.9 290.1 496.3Z" fill="#ffc814" stroke="#141414" stroke-opacity="0.7" stroke-width="0.4"/>
<path d="M291.0 496.0C289.8 495.4 289.8 495.2 289.5 493.3C289.2 491.4 289.1 488.7 289.0 484.8C288.9 480.9 288.9 475.1 289.0 470.0C289.1 464.9 289.1 459.2 289.4 454.2C289.6 449.3 290.0 444.4 290.4 440.4C290.8 436.3 291.3 433.1 291.8 430.0C292.2 426.9 292.6 423.9 293.2 421.9C293.7 419.8 294.6 417.5 295.2 417.5C295.9 417.5 296.5 419.8 297.0 421.9C297.5 423.9 297.6 427.8 298.4 430.0C299.1 432.2 300.1 433.2 301.3 435.2C302.5 437.2 304.5 439.8 305.6 442.1C306.8 444.4 307.4 446.5 308.2 449.0C309.1 451.6 310.0 455.1 310.8 457.7C311.7 460.3 312.3 462.6 313.4 464.6C314.6 466.7 316.6 467.8 317.8 469.8C318.9 471.8 319.6 474.4 320.4 476.8C321.1 479.1 321.6 481.7 322.1 483.7C322.5 485.7 323.2 487.4 322.9 488.9C322.7 490.4 322.1 491.5 320.4 492.7C318.6 493.8 315.0 495.1 312.6 495.8C310.1 496.5 308.2 496.6 305.6 496.8C303.0 497.0 299.4 497.2 297.0 497.0C294.5 496.9 292.2 496.6 291.0 496.0Z" fill="#ffa00a" stroke="#141414" stroke-opacity="0.7" stroke-width="0.4"/>
<path d="M295.2 440.7C294.5 440.9 293.7 443.0 293.2 445.6C292.6 448.1 292.2 451.9 291.8 456.0C291.3 460.0 291.0 465.2 290.6 469.8C290.1 474.4 289.6 480.2 289.2 483.7C288.8 487.1 288.2 488.6 288.3 490.6C288.4 492.6 288.8 494.4 289.7 495.5C290.6 496.5 291.4 496.6 293.5 496.7C295.6 496.7 299.7 496.5 302.2 495.8C304.6 495.1 306.6 493.8 308.2 492.7C309.8 491.5 311.4 490.2 311.7 488.9C312.0 487.5 310.8 486.4 310.0 484.5C309.1 482.7 307.5 480.1 306.5 477.6C305.5 475.2 304.7 472.6 303.9 469.8C303.1 467.1 302.5 464.1 301.8 461.2C301.1 458.3 300.2 455.3 299.6 452.5C298.9 449.8 298.6 446.7 297.8 444.7C297.1 442.8 296.0 440.6 295.2 440.7Z" fill="#ff7205" stroke="#141414" stroke-opacity="0.7" stroke-width="0.4"/>
<path d="M295.8 479.9C295.2 480.0 294.3 482.2 293.9 483.7C293.4 485.2 292.9 487.3 292.8 488.9C292.8 490.5 293.1 492.3 293.5 493.2C293.9 494.1 294.7 494.6 295.2 494.4C295.8 494.3 296.5 493.4 297.0 492.3C297.4 491.3 298.0 489.6 298.0 488.0C298.1 486.4 297.7 484.2 297.3 482.8C296.9 481.5 296.3 479.7 295.8 479.9Z" fill="#ff3e12" stroke="#141414" stroke-opacity="0.7" stroke-width="0.4"/>
</g>
<rect x="280.70" y="355.50" width="143.60" height="144.10" fill="none" stroke="#111" stroke-width="1.1"/>
<line x1="276.70" y1="355.50" x2="280.70" y2="355.50" stroke="#000" stroke-width="0.9"/>
<text x="269.80" y="358.60" font-size="8.6" text-anchor="end">100</text>
<line x1="276.70" y1="380.87" x2="280.70" y2="380.87" stroke="#000" stroke-width="0.9"/>
<text x="269.80" y="383.97" font-size="8.6" text-anchor="end">150</text>
<line x1="276.70" y1="398.88" x2="280.70" y2="398.88" stroke="#000" stroke-width="0.9"/>
<text x="269.80" y="401.98" font-size="8.6" text-anchor="end">200</text>
<line x1="276.70" y1="412.84" x2="280.70" y2="412.84" stroke="#000" stroke-width="0.9"/>
<text x="269.80" y="415.94" font-size="8.6" text-anchor="end">250</text>
<line x1="276.70" y1="424.25" x2="280.70" y2="424.25" stroke="#000" stroke-width="0.9"/>
<text x="269.80" y="427.35" font-size="8.6" text-anchor="end">300</text>
<line x1="276.70" y1="442.26" x2="280.70" y2="442.26" stroke="#000" stroke-width="0.9"/>
<text x="269.80" y="445.36" font-size="8.6" text-anchor="end">400</text>
<line x1="276.70" y1="456.22" x2="280.70" y2="456.22" stroke="#000" stroke-width="0.9"/>
<text x="269.80" y="459.32" font-size="8.6" text-anchor="end">500</text>
<line x1="276.70" y1="477.28" x2="280.70" y2="477.28" stroke="#000" stroke-width="0.9"/>
<text x="269.80" y="480.38" font-size="8.6" text-anchor="end">700</text>
<line x1="276.70" y1="489.43" x2="280.70" y2="489.43" stroke="#000" stroke-width="0.9"/>
<text x="269.80" y="492.53" font-size="8.6" text-anchor="end">850</text>
<line x1="276.70" y1="499.60" x2="280.70" y2="499.60" stroke="#000" stroke-width="0.9"/>
<text x="269.80" y="502.70" font-size="8.6" text-anchor="end">1000</text>
<line x1="424.30" y1="485.24" x2="428.50" y2="485.24" stroke="#000" stroke-width="0.9"/>
<text x="434.40" y="488.54" font-size="8.6" text-anchor="start">2</text>
<line x1="424.30" y1="469.32" x2="428.50" y2="469.32" stroke="#000" stroke-width="0.9"/>
<text x="434.40" y="472.62" font-size="8.6" text-anchor="start">4</text>
<line x1="424.30" y1="452.59" x2="428.50" y2="452.59" stroke="#000" stroke-width="0.9"/>
<text x="434.40" y="455.89" font-size="8.6" text-anchor="start">6</text>
<line x1="424.30" y1="434.96" x2="428.50" y2="434.96" stroke="#000" stroke-width="0.9"/>
<text x="434.40" y="438.26" font-size="8.6" text-anchor="start">8</text>
<line x1="424.30" y1="416.34" x2="428.50" y2="416.34" stroke="#000" stroke-width="0.9"/>
<text x="434.40" y="419.64" font-size="8.6" text-anchor="start">10</text>
<line x1="424.30" y1="396.75" x2="428.50" y2="396.75" stroke="#000" stroke-width="0.9"/>
<text x="434.40" y="400.05" font-size="8.6" text-anchor="start">12</text>
<line x1="424.30" y1="377.01" x2="428.50" y2="377.01" stroke="#000" stroke-width="0.9"/>
<text x="434.40" y="380.31" font-size="8.6" text-anchor="start">14</text>
<line x1="424.30" y1="357.27" x2="428.50" y2="357.27" stroke="#000" stroke-width="0.9"/>
<text x="434.40" y="360.57" font-size="8.6" text-anchor="start">16</text>
<line x1="280.70" y1="499.60" x2="280.70" y2="503.90" stroke="#000" stroke-width="0.9"/>
<text x="280.70" y="516.40" font-size="8.6" text-anchor="middle">0</text>
<line x1="309.75" y1="499.60" x2="309.75" y2="503.90" stroke="#000" stroke-width="0.9"/>
<text x="309.75" y="516.40" font-size="8.6" text-anchor="middle">20</text>
<line x1="338.80" y1="499.60" x2="338.80" y2="503.90" stroke="#000" stroke-width="0.9"/>
<text x="338.80" y="516.40" font-size="8.6" text-anchor="middle">40</text>
<line x1="367.85" y1="499.60" x2="367.85" y2="503.90" stroke="#000" stroke-width="0.9"/>
<text x="367.85" y="516.40" font-size="8.6" text-anchor="middle">60</text>
<line x1="396.90" y1="499.60" x2="396.90" y2="503.90" stroke="#000" stroke-width="0.9"/>
<text x="396.90" y="516.40" font-size="8.6" text-anchor="middle">80</text>
<text transform="translate(241.20 427.55) rotate(-90)" font-size="11.4" text-anchor="middle">Pressure (mb)</text>
<text transform="translate(457.40 427.55) rotate(-90)" font-size="11.4" text-anchor="middle">Height (km)</text>
<text x="412.40" y="369.10" font-size="9" text-anchor="middle">(f)</text>
<rect x="117.20" y="528.30" width="17.77" height="6.50" fill="#f8f8ff"/>
<rect x="134.67" y="528.30" width="17.77" height="6.50" fill="#aaaaf2"/>
<rect x="152.14" y="528.30" width="17.77" height="6.50" fill="#3c3cf0"/>
<rect x="169.61" y="528.30" width="17.77" height="6.50" fill="#14aa14"/>
<rect x="187.08" y="528.30" width="17.77" height="6.50" fill="#38ba14"/>
<rect x="204.55" y="528.30" width="17.77" height="6.50" fill="#96dc0a"/>
<rect x="222.02" y="528.30" width="17.77" height="6.50" fill="#d2eb00"/>
<rect x="239.49" y="528.30" width="17.77" height="6.50" fill="#fcfc00"/>
<rect x="256.96" y="528.30" width="17.77" height="6.50" fill="#ffc814"/>
<rect x="274.43" y="528.30" width="17.77" height="6.50" fill="#ffa00a"/>
<rect x="291.90" y="528.30" width="17.77" height="6.50" fill="#ff7205"/>
<rect x="309.37" y="528.30" width="17.77" height="6.50" fill="#ff3e12"/>
<rect x="326.84" y="528.30" width="17.77" height="6.50" fill="#ff0606"/>
<text x="134.67" y="547.80" font-size="12.2" text-anchor="middle">3.4</text>
<text x="169.61" y="547.80" font-size="12.2" text-anchor="middle">8</text>
<text x="204.55" y="547.80" font-size="12.2" text-anchor="middle">13.9</text>
<text x="239.49" y="547.80" font-size="12.2" text-anchor="middle">20.8</text>
<text x="274.43" y="547.80" font-size="12.2" text-anchor="middle">28.5</text>
<text x="309.37" y="547.80" font-size="12.2" text-anchor="middle">41.5</text>
</svg></body></html>
